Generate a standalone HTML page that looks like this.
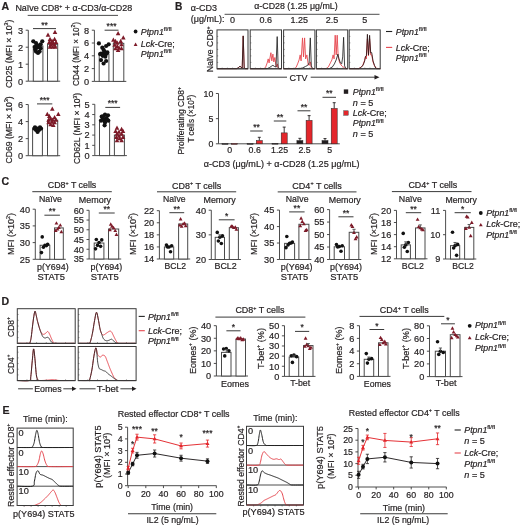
<!DOCTYPE html>
<html><head><meta charset="utf-8"><style>
html,body{margin:0;padding:0;background:#fff;}
svg{display:block;}
text{stroke:#231f20;stroke-width:0.2px;}
</style></head><body>
<svg width="520" height="526" viewBox="0 0 520 526" font-family='"Liberation Sans", Arial, Helvetica, sans-serif' fill="#231f20">
<rect width="520" height="526" fill="#fff"/>
<text x="1.60" y="9.70" font-size="10.6" font-weight="bold">A</text>
<text x="15.40" y="11.20" font-size="9.0" textLength="116.90" lengthAdjust="spacingAndGlyphs">Naïve CD8<tspan dy="-3.2" font-size="5.2">+</tspan><tspan dy="3.2"> + <tspan font-family=""Liberation Serif", "Times New Roman", serif">α</tspan>-CD3/<tspan font-family=""Liberation Serif", "Times New Roman", serif">α</tspan>-CD28</tspan></text>
<line x1="27.70" y1="15.40" x2="118.00" y2="15.40" stroke="#3a3a3a" stroke-width="0.9"/>
<line x1="28.30" y1="30.20" x2="28.30" y2="81.20" stroke="#3a3a3a" stroke-width="0.9"/>
<line x1="25.70" y1="81.20" x2="28.30" y2="81.20" stroke="#3a3a3a" stroke-width="0.9"/>
<text x="23.10" y="84.51" font-size="9.2" text-anchor="end">0</text>
<line x1="25.70" y1="64.20" x2="28.30" y2="64.20" stroke="#3a3a3a" stroke-width="0.9"/>
<text x="23.10" y="67.51" font-size="9.2" text-anchor="end">1</text>
<line x1="25.70" y1="47.20" x2="28.30" y2="47.20" stroke="#3a3a3a" stroke-width="0.9"/>
<text x="23.10" y="50.51" font-size="9.2" text-anchor="end">2</text>
<line x1="25.70" y1="30.20" x2="28.30" y2="30.20" stroke="#3a3a3a" stroke-width="0.9"/>
<text x="23.10" y="33.51" font-size="9.2" text-anchor="end">3</text>
<line x1="28.30" y1="81.20" x2="60.20" y2="81.20" stroke="#3a3a3a" stroke-width="0.9"/>
<rect x="33.30" y="46.01" width="9.60" height="35.19" fill="#fff" stroke="#4a4a4a" stroke-width="1"/>
<rect x="47.50" y="44.31" width="10.20" height="36.89" fill="#fff" stroke="#4a4a4a" stroke-width="1"/>
<circle cx="33.30" cy="41.30" r="2.1" fill="#111111"/>
<circle cx="36.00" cy="43.00" r="2.1" fill="#111111"/>
<circle cx="42.30" cy="41.30" r="2.1" fill="#111111"/>
<circle cx="40.60" cy="44.30" r="2.1" fill="#111111"/>
<circle cx="38.60" cy="45.60" r="2.1" fill="#111111"/>
<circle cx="37.30" cy="47.60" r="2.1" fill="#111111"/>
<circle cx="35.30" cy="49.60" r="2.1" fill="#111111"/>
<circle cx="36.00" cy="51.60" r="2.1" fill="#111111"/>
<circle cx="38.00" cy="52.90" r="2.1" fill="#111111"/>
<circle cx="39.60" cy="51.60" r="2.1" fill="#111111"/>
<circle cx="40.60" cy="48.30" r="2.1" fill="#111111"/>
<circle cx="34.70" cy="47.00" r="2.1" fill="#111111"/>
<circle cx="39.50" cy="46.50" r="2.1" fill="#111111"/>
<circle cx="36.50" cy="45.00" r="2.1" fill="#111111"/>
<path d="M48.00 32.52 L50.30 36.66 L45.70 36.66 Z" fill="#7d1a28"/>
<path d="M55.00 29.82 L57.30 33.96 L52.70 33.96 Z" fill="#7d1a28"/>
<path d="M50.00 36.82 L52.30 40.96 L47.70 40.96 Z" fill="#7d1a28"/>
<path d="M54.60 36.82 L56.90 40.96 L52.30 40.96 Z" fill="#7d1a28"/>
<path d="M49.30 39.82 L51.60 43.96 L47.00 43.96 Z" fill="#7d1a28"/>
<path d="M56.00 39.82 L58.30 43.96 L53.70 43.96 Z" fill="#7d1a28"/>
<path d="M50.60 42.52 L52.90 46.66 L48.30 46.66 Z" fill="#7d1a28"/>
<path d="M54.60 42.52 L56.90 46.66 L52.30 46.66 Z" fill="#7d1a28"/>
<path d="M52.60 44.72 L54.90 48.86 L50.30 48.86 Z" fill="#7d1a28"/>
<path d="M50.00 44.52 L52.30 48.66 L47.70 48.66 Z" fill="#7d1a28"/>
<path d="M55.30 44.52 L57.60 48.66 L53.00 48.66 Z" fill="#7d1a28"/>
<path d="M52.00 38.52 L54.30 42.66 L49.70 42.66 Z" fill="#7d1a28"/>
<path d="M53.30 40.52 L55.60 44.66 L51.00 44.66 Z" fill="#7d1a28"/>
<path d="M51.50 41.02 L53.80 45.16 L49.20 45.16 Z" fill="#7d1a28"/>
<line x1="33.00" y1="28.60" x2="56.00" y2="28.60" stroke="#3a3a3a" stroke-width="1.0"/>
<text x="44.50" y="27.60" font-size="8.5" text-anchor="middle">**</text>
<text x="11.80" y="88.00" font-size="9.0" textLength="68.40" lengthAdjust="spacingAndGlyphs" transform="rotate(-90 11.80 88.00)">CD25 (MFI × 10<tspan dy="-3.4" font-size="5.4">3</tspan><tspan dy="3.4">)</tspan></text>
<line x1="94.40" y1="30.20" x2="94.40" y2="81.40" stroke="#3a3a3a" stroke-width="0.9"/>
<line x1="91.80" y1="81.40" x2="94.40" y2="81.40" stroke="#3a3a3a" stroke-width="0.9"/>
<text x="89.20" y="84.71" font-size="9.2" text-anchor="end">0</text>
<line x1="91.80" y1="68.60" x2="94.40" y2="68.60" stroke="#3a3a3a" stroke-width="0.9"/>
<text x="89.20" y="71.91" font-size="9.2" text-anchor="end">2</text>
<line x1="91.80" y1="55.80" x2="94.40" y2="55.80" stroke="#3a3a3a" stroke-width="0.9"/>
<text x="89.20" y="59.11" font-size="9.2" text-anchor="end">4</text>
<line x1="91.80" y1="43.00" x2="94.40" y2="43.00" stroke="#3a3a3a" stroke-width="0.9"/>
<text x="89.20" y="46.31" font-size="9.2" text-anchor="end">6</text>
<line x1="91.80" y1="30.20" x2="94.40" y2="30.20" stroke="#3a3a3a" stroke-width="0.9"/>
<text x="89.20" y="33.51" font-size="9.2" text-anchor="end">8</text>
<line x1="94.40" y1="81.40" x2="126.30" y2="81.40" stroke="#3a3a3a" stroke-width="0.9"/>
<rect x="99.20" y="54.20" width="9.70" height="27.20" fill="#fff" stroke="#4a4a4a" stroke-width="1"/>
<rect x="113.30" y="43.32" width="10.50" height="38.08" fill="#fff" stroke="#4a4a4a" stroke-width="1"/>
<circle cx="98.90" cy="43.40" r="2.1" fill="#111111"/>
<circle cx="108.70" cy="44.30" r="2.1" fill="#111111"/>
<circle cx="106.10" cy="46.00" r="2.1" fill="#111111"/>
<circle cx="102.30" cy="47.70" r="2.1" fill="#111111"/>
<circle cx="103.60" cy="49.80" r="2.1" fill="#111111"/>
<circle cx="101.00" cy="53.70" r="2.1" fill="#111111"/>
<circle cx="103.60" cy="53.30" r="2.1" fill="#111111"/>
<circle cx="106.10" cy="54.10" r="2.1" fill="#111111"/>
<circle cx="102.70" cy="55.80" r="2.1" fill="#111111"/>
<circle cx="105.30" cy="56.70" r="2.1" fill="#111111"/>
<circle cx="101.00" cy="60.10" r="2.1" fill="#111111"/>
<circle cx="106.10" cy="61.00" r="2.1" fill="#111111"/>
<circle cx="103.60" cy="63.50" r="2.1" fill="#111111"/>
<circle cx="100.10" cy="54.10" r="2.1" fill="#111111"/>
<circle cx="107.40" cy="52.40" r="2.1" fill="#111111"/>
<circle cx="104.50" cy="51.50" r="2.1" fill="#111111"/>
<path d="M118.10 31.12 L120.40 35.26 L115.80 35.26 Z" fill="#7d1a28"/>
<path d="M113.40 37.52 L115.70 41.66 L111.10 41.66 Z" fill="#7d1a28"/>
<path d="M123.30 35.32 L125.60 39.46 L121.00 39.46 Z" fill="#7d1a28"/>
<path d="M115.50 38.82 L117.80 42.96 L113.20 42.96 Z" fill="#7d1a28"/>
<path d="M120.70 38.82 L123.00 42.96 L118.40 42.96 Z" fill="#7d1a28"/>
<path d="M117.30 40.52 L119.60 44.66 L115.00 44.66 Z" fill="#7d1a28"/>
<path d="M114.70 42.62 L117.00 46.76 L112.40 46.76 Z" fill="#7d1a28"/>
<path d="M121.50 42.22 L123.80 46.36 L119.20 46.36 Z" fill="#7d1a28"/>
<path d="M117.30 43.92 L119.60 48.06 L115.00 48.06 Z" fill="#7d1a28"/>
<path d="M119.00 45.62 L121.30 49.76 L116.70 49.76 Z" fill="#7d1a28"/>
<path d="M115.50 46.02 L117.80 50.16 L113.20 50.16 Z" fill="#7d1a28"/>
<path d="M121.50 46.02 L123.80 50.16 L119.20 50.16 Z" fill="#7d1a28"/>
<path d="M118.10 47.82 L120.40 51.96 L115.80 51.96 Z" fill="#7d1a28"/>
<line x1="104.60" y1="30.20" x2="118.50" y2="30.20" stroke="#3a3a3a" stroke-width="1.0"/>
<text x="111.55" y="29.20" font-size="8.5" text-anchor="middle">***</text>
<text x="78.50" y="86.00" font-size="9.0" textLength="64.00" lengthAdjust="spacingAndGlyphs" transform="rotate(-90 78.50 86.00)">CD44 (MFI × 10<tspan dy="-3.4" font-size="5.4">2</tspan><tspan dy="3.4">)</tspan></text>
<circle cx="135.60" cy="31.50" r="1.9" fill="#111111"/>
<text x="140.80" y="34.60" font-size="8.8"><tspan font-style="italic">Ptpn1</tspan><tspan dy="-3.7" font-size="6.1">fl/fl</tspan></text>
<path d="M135.60 42.55 L137.50 45.97 L133.70 45.97 Z" fill="#7d1a28"/>
<text x="140.80" y="46.80" font-size="9.0"><tspan font-style="italic">Lck</tspan>-Cre;</text>
<text x="140.80" y="56.60" font-size="8.8"><tspan font-style="italic">Ptpn1</tspan><tspan dy="-3.7" font-size="6.1">fl/fl</tspan></text>
<line x1="28.30" y1="104.52" x2="28.30" y2="155.70" stroke="#3a3a3a" stroke-width="0.9"/>
<line x1="25.70" y1="155.70" x2="28.30" y2="155.70" stroke="#3a3a3a" stroke-width="0.9"/>
<text x="23.10" y="159.01" font-size="9.2" text-anchor="end">0</text>
<line x1="25.70" y1="138.64" x2="28.30" y2="138.64" stroke="#3a3a3a" stroke-width="0.9"/>
<text x="23.10" y="141.95" font-size="9.2" text-anchor="end">2</text>
<line x1="25.70" y1="121.58" x2="28.30" y2="121.58" stroke="#3a3a3a" stroke-width="0.9"/>
<text x="23.10" y="124.89" font-size="9.2" text-anchor="end">4</text>
<line x1="25.70" y1="104.52" x2="28.30" y2="104.52" stroke="#3a3a3a" stroke-width="0.9"/>
<text x="23.10" y="107.83" font-size="9.2" text-anchor="end">6</text>
<line x1="28.30" y1="155.70" x2="60.20" y2="155.70" stroke="#3a3a3a" stroke-width="0.9"/>
<rect x="32.60" y="129.43" width="9.80" height="26.27" fill="#fff" stroke="#4a4a4a" stroke-width="1"/>
<rect x="47.50" y="120.22" width="10.20" height="35.48" fill="#fff" stroke="#4a4a4a" stroke-width="1"/>
<circle cx="35.00" cy="127.30" r="2.1" fill="#111111"/>
<circle cx="40.00" cy="127.30" r="2.1" fill="#111111"/>
<circle cx="36.00" cy="130.00" r="2.1" fill="#111111"/>
<circle cx="39.00" cy="130.00" r="2.1" fill="#111111"/>
<circle cx="37.60" cy="132.00" r="2.1" fill="#111111"/>
<circle cx="37.30" cy="128.60" r="2.1" fill="#111111"/>
<circle cx="34.30" cy="128.60" r="2.1" fill="#111111"/>
<circle cx="41.00" cy="128.60" r="2.1" fill="#111111"/>
<circle cx="37.50" cy="130.50" r="2.1" fill="#111111"/>
<path d="M52.30 106.52 L54.60 110.66 L50.00 110.66 Z" fill="#7d1a28"/>
<path d="M47.30 111.82 L49.60 115.96 L45.00 115.96 Z" fill="#7d1a28"/>
<path d="M58.30 111.82 L60.60 115.96 L56.00 115.96 Z" fill="#7d1a28"/>
<path d="M49.30 113.82 L51.60 117.96 L47.00 117.96 Z" fill="#7d1a28"/>
<path d="M54.60 115.12 L56.90 119.26 L52.30 119.26 Z" fill="#7d1a28"/>
<path d="M48.60 117.52 L50.90 121.66 L46.30 121.66 Z" fill="#7d1a28"/>
<path d="M56.00 117.52 L58.30 121.66 L53.70 121.66 Z" fill="#7d1a28"/>
<path d="M50.60 116.12 L52.90 120.26 L48.30 120.26 Z" fill="#7d1a28"/>
<path d="M52.60 117.52 L54.90 121.66 L50.30 121.66 Z" fill="#7d1a28"/>
<path d="M48.60 120.12 L50.90 124.26 L46.30 124.26 Z" fill="#7d1a28"/>
<path d="M54.60 120.12 L56.90 124.26 L52.30 124.26 Z" fill="#7d1a28"/>
<path d="M50.60 122.12 L52.90 126.26 L48.30 126.26 Z" fill="#7d1a28"/>
<path d="M53.30 122.82 L55.60 126.96 L51.00 126.96 Z" fill="#7d1a28"/>
<path d="M52.00 119.52 L54.30 123.66 L49.70 123.66 Z" fill="#7d1a28"/>
<line x1="37.00" y1="103.90" x2="52.30" y2="103.90" stroke="#3a3a3a" stroke-width="1.0"/>
<text x="44.65" y="102.90" font-size="8.5" text-anchor="middle">***</text>
<text x="11.80" y="163.40" font-size="9.0" textLength="67.00" lengthAdjust="spacingAndGlyphs" transform="rotate(-90 11.80 163.40)">CD69 (MFI × 10<tspan dy="-3.4" font-size="5.4">3</tspan><tspan dy="3.4">)</tspan></text>
<line x1="94.80" y1="104.30" x2="94.80" y2="155.60" stroke="#3a3a3a" stroke-width="0.9"/>
<line x1="92.20" y1="155.60" x2="94.80" y2="155.60" stroke="#3a3a3a" stroke-width="0.9"/>
<text x="89.60" y="158.91" font-size="9.2" text-anchor="end">0</text>
<line x1="92.20" y1="145.34" x2="94.80" y2="145.34" stroke="#3a3a3a" stroke-width="0.9"/>
<text x="89.60" y="148.65" font-size="9.2" text-anchor="end">1</text>
<line x1="92.20" y1="135.08" x2="94.80" y2="135.08" stroke="#3a3a3a" stroke-width="0.9"/>
<text x="89.60" y="138.39" font-size="9.2" text-anchor="end">2</text>
<line x1="92.20" y1="124.82" x2="94.80" y2="124.82" stroke="#3a3a3a" stroke-width="0.9"/>
<text x="89.60" y="128.13" font-size="9.2" text-anchor="end">3</text>
<line x1="92.20" y1="114.56" x2="94.80" y2="114.56" stroke="#3a3a3a" stroke-width="0.9"/>
<text x="89.60" y="117.87" font-size="9.2" text-anchor="end">4</text>
<line x1="92.20" y1="104.30" x2="94.80" y2="104.30" stroke="#3a3a3a" stroke-width="0.9"/>
<text x="89.60" y="107.61" font-size="9.2" text-anchor="end">5</text>
<line x1="94.80" y1="155.60" x2="126.90" y2="155.60" stroke="#3a3a3a" stroke-width="0.9"/>
<rect x="99.50" y="121.74" width="10.10" height="33.86" fill="#fff" stroke="#4a4a4a" stroke-width="1"/>
<rect x="114.40" y="135.08" width="10.00" height="20.52" fill="#fff" stroke="#4a4a4a" stroke-width="1"/>
<circle cx="101.70" cy="116.60" r="2.1" fill="#111111"/>
<circle cx="105.00" cy="114.70" r="2.1" fill="#111111"/>
<circle cx="108.00" cy="115.30" r="2.1" fill="#111111"/>
<circle cx="103.00" cy="118.60" r="2.1" fill="#111111"/>
<circle cx="106.30" cy="118.00" r="2.1" fill="#111111"/>
<circle cx="101.00" cy="120.60" r="2.1" fill="#111111"/>
<circle cx="104.30" cy="120.60" r="2.1" fill="#111111"/>
<circle cx="108.30" cy="120.60" r="2.1" fill="#111111"/>
<circle cx="105.00" cy="122.60" r="2.1" fill="#111111"/>
<circle cx="104.60" cy="125.30" r="2.1" fill="#111111"/>
<circle cx="103.00" cy="116.30" r="2.1" fill="#111111"/>
<circle cx="107.00" cy="119.50" r="2.1" fill="#111111"/>
<path d="M117.00 125.52 L119.30 129.66 L114.70 129.66 Z" fill="#7d1a28"/>
<path d="M121.60 126.82 L123.90 130.96 L119.30 130.96 Z" fill="#7d1a28"/>
<path d="M115.60 128.82 L117.90 132.96 L113.30 132.96 Z" fill="#7d1a28"/>
<path d="M123.00 128.82 L125.30 132.96 L120.70 132.96 Z" fill="#7d1a28"/>
<path d="M119.00 129.52 L121.30 133.66 L116.70 133.66 Z" fill="#7d1a28"/>
<path d="M117.00 131.52 L119.30 135.66 L114.70 135.66 Z" fill="#7d1a28"/>
<path d="M121.60 131.52 L123.90 135.66 L119.30 135.66 Z" fill="#7d1a28"/>
<path d="M116.30 134.82 L118.60 138.96 L114.00 138.96 Z" fill="#7d1a28"/>
<path d="M123.00 134.82 L125.30 138.96 L120.70 138.96 Z" fill="#7d1a28"/>
<path d="M119.60 136.12 L121.90 140.26 L117.30 140.26 Z" fill="#7d1a28"/>
<path d="M117.00 138.12 L119.30 142.26 L114.70 142.26 Z" fill="#7d1a28"/>
<path d="M121.60 138.12 L123.90 142.26 L119.30 142.26 Z" fill="#7d1a28"/>
<path d="M119.00 133.52 L121.30 137.66 L116.70 137.66 Z" fill="#7d1a28"/>
<line x1="105.30" y1="107.40" x2="120.10" y2="107.40" stroke="#3a3a3a" stroke-width="1.0"/>
<text x="112.70" y="106.40" font-size="8.5" text-anchor="middle">***</text>
<text x="80.20" y="164.00" font-size="9.0" textLength="71.10" lengthAdjust="spacingAndGlyphs" transform="rotate(-90 80.20 164.00)">CD62L (MFI × 10<tspan dy="-3.4" font-size="5.4">3</tspan><tspan dy="3.4">)</tspan></text>
<text x="175.00" y="9.80" font-size="10.2" font-weight="bold">B</text>
<text x="190.80" y="10.80" font-size="9.0"><tspan font-family=""Liberation Serif", "Times New Roman", serif">α</tspan>-CD3</text>
<text x="190.80" y="21.50" font-size="9.0" textLength="33.80" lengthAdjust="spacingAndGlyphs">(μg/mL):</text>
<text x="254.20" y="8.50" font-size="9.0" textLength="83.50" lengthAdjust="spacingAndGlyphs"><tspan font-family=""Liberation Serif", "Times New Roman", serif">α</tspan>-CD28 (1.25 μg/mL)</text>
<line x1="224.60" y1="14.30" x2="379.50" y2="14.30" stroke="#3a3a3a" stroke-width="0.9"/>
<text x="232.50" y="23.30" font-size="9.0" text-anchor="middle">0</text>
<rect x="217.00" y="29.90" width="31.00" height="38.90" fill="none" stroke="#3a3a3a" stroke-width="1.0"/>
<line x1="217.00" y1="36.40" x2="218.20" y2="36.40" stroke="#3a3a3a" stroke-width="0.5"/>
<line x1="217.00" y1="42.90" x2="218.20" y2="42.90" stroke="#3a3a3a" stroke-width="0.5"/>
<line x1="217.00" y1="49.40" x2="218.20" y2="49.40" stroke="#3a3a3a" stroke-width="0.5"/>
<line x1="217.00" y1="55.90" x2="218.20" y2="55.90" stroke="#3a3a3a" stroke-width="0.5"/>
<line x1="217.00" y1="62.40" x2="218.20" y2="62.40" stroke="#3a3a3a" stroke-width="0.5"/>
<line x1="222.20" y1="68.80" x2="222.20" y2="67.60" stroke="#3a3a3a" stroke-width="0.5"/>
<line x1="227.40" y1="68.80" x2="227.40" y2="67.60" stroke="#3a3a3a" stroke-width="0.5"/>
<line x1="232.60" y1="68.80" x2="232.60" y2="67.60" stroke="#3a3a3a" stroke-width="0.5"/>
<line x1="237.80" y1="68.80" x2="237.80" y2="67.60" stroke="#3a3a3a" stroke-width="0.5"/>
<line x1="243.00" y1="68.80" x2="243.00" y2="67.60" stroke="#3a3a3a" stroke-width="0.5"/>
<text x="265.85" y="23.30" font-size="9.0" text-anchor="middle">0.6</text>
<rect x="250.20" y="29.90" width="31.30" height="38.90" fill="none" stroke="#3a3a3a" stroke-width="1.0"/>
<line x1="250.20" y1="36.40" x2="251.40" y2="36.40" stroke="#3a3a3a" stroke-width="0.5"/>
<line x1="250.20" y1="42.90" x2="251.40" y2="42.90" stroke="#3a3a3a" stroke-width="0.5"/>
<line x1="250.20" y1="49.40" x2="251.40" y2="49.40" stroke="#3a3a3a" stroke-width="0.5"/>
<line x1="250.20" y1="55.90" x2="251.40" y2="55.90" stroke="#3a3a3a" stroke-width="0.5"/>
<line x1="250.20" y1="62.40" x2="251.40" y2="62.40" stroke="#3a3a3a" stroke-width="0.5"/>
<line x1="255.40" y1="68.80" x2="255.40" y2="67.60" stroke="#3a3a3a" stroke-width="0.5"/>
<line x1="260.60" y1="68.80" x2="260.60" y2="67.60" stroke="#3a3a3a" stroke-width="0.5"/>
<line x1="265.80" y1="68.80" x2="265.80" y2="67.60" stroke="#3a3a3a" stroke-width="0.5"/>
<line x1="271.00" y1="68.80" x2="271.00" y2="67.60" stroke="#3a3a3a" stroke-width="0.5"/>
<line x1="276.20" y1="68.80" x2="276.20" y2="67.60" stroke="#3a3a3a" stroke-width="0.5"/>
<text x="299.25" y="23.30" font-size="9.0" text-anchor="middle">1.25</text>
<rect x="283.60" y="29.90" width="31.30" height="38.90" fill="none" stroke="#3a3a3a" stroke-width="1.0"/>
<line x1="283.60" y1="36.40" x2="284.80" y2="36.40" stroke="#3a3a3a" stroke-width="0.5"/>
<line x1="283.60" y1="42.90" x2="284.80" y2="42.90" stroke="#3a3a3a" stroke-width="0.5"/>
<line x1="283.60" y1="49.40" x2="284.80" y2="49.40" stroke="#3a3a3a" stroke-width="0.5"/>
<line x1="283.60" y1="55.90" x2="284.80" y2="55.90" stroke="#3a3a3a" stroke-width="0.5"/>
<line x1="283.60" y1="62.40" x2="284.80" y2="62.40" stroke="#3a3a3a" stroke-width="0.5"/>
<line x1="288.80" y1="68.80" x2="288.80" y2="67.60" stroke="#3a3a3a" stroke-width="0.5"/>
<line x1="294.00" y1="68.80" x2="294.00" y2="67.60" stroke="#3a3a3a" stroke-width="0.5"/>
<line x1="299.20" y1="68.80" x2="299.20" y2="67.60" stroke="#3a3a3a" stroke-width="0.5"/>
<line x1="304.40" y1="68.80" x2="304.40" y2="67.60" stroke="#3a3a3a" stroke-width="0.5"/>
<line x1="309.60" y1="68.80" x2="309.60" y2="67.60" stroke="#3a3a3a" stroke-width="0.5"/>
<text x="332.05" y="23.30" font-size="9.0" text-anchor="middle">2.5</text>
<rect x="316.40" y="29.90" width="31.30" height="38.90" fill="none" stroke="#3a3a3a" stroke-width="1.0"/>
<line x1="316.40" y1="36.40" x2="317.60" y2="36.40" stroke="#3a3a3a" stroke-width="0.5"/>
<line x1="316.40" y1="42.90" x2="317.60" y2="42.90" stroke="#3a3a3a" stroke-width="0.5"/>
<line x1="316.40" y1="49.40" x2="317.60" y2="49.40" stroke="#3a3a3a" stroke-width="0.5"/>
<line x1="316.40" y1="55.90" x2="317.60" y2="55.90" stroke="#3a3a3a" stroke-width="0.5"/>
<line x1="316.40" y1="62.40" x2="317.60" y2="62.40" stroke="#3a3a3a" stroke-width="0.5"/>
<line x1="321.60" y1="68.80" x2="321.60" y2="67.60" stroke="#3a3a3a" stroke-width="0.5"/>
<line x1="326.80" y1="68.80" x2="326.80" y2="67.60" stroke="#3a3a3a" stroke-width="0.5"/>
<line x1="332.00" y1="68.80" x2="332.00" y2="67.60" stroke="#3a3a3a" stroke-width="0.5"/>
<line x1="337.20" y1="68.80" x2="337.20" y2="67.60" stroke="#3a3a3a" stroke-width="0.5"/>
<line x1="342.40" y1="68.80" x2="342.40" y2="67.60" stroke="#3a3a3a" stroke-width="0.5"/>
<text x="364.70" y="23.30" font-size="9.0" text-anchor="middle">5</text>
<rect x="349.20" y="29.90" width="31.00" height="38.90" fill="none" stroke="#3a3a3a" stroke-width="1.0"/>
<line x1="349.20" y1="36.40" x2="350.40" y2="36.40" stroke="#3a3a3a" stroke-width="0.5"/>
<line x1="349.20" y1="42.90" x2="350.40" y2="42.90" stroke="#3a3a3a" stroke-width="0.5"/>
<line x1="349.20" y1="49.40" x2="350.40" y2="49.40" stroke="#3a3a3a" stroke-width="0.5"/>
<line x1="349.20" y1="55.90" x2="350.40" y2="55.90" stroke="#3a3a3a" stroke-width="0.5"/>
<line x1="349.20" y1="62.40" x2="350.40" y2="62.40" stroke="#3a3a3a" stroke-width="0.5"/>
<line x1="354.40" y1="68.80" x2="354.40" y2="67.60" stroke="#3a3a3a" stroke-width="0.5"/>
<line x1="359.60" y1="68.80" x2="359.60" y2="67.60" stroke="#3a3a3a" stroke-width="0.5"/>
<line x1="364.80" y1="68.80" x2="364.80" y2="67.60" stroke="#3a3a3a" stroke-width="0.5"/>
<line x1="370.00" y1="68.80" x2="370.00" y2="67.60" stroke="#3a3a3a" stroke-width="0.5"/>
<line x1="375.20" y1="68.80" x2="375.20" y2="67.60" stroke="#3a3a3a" stroke-width="0.5"/>
<text x="213.30" y="72.30" font-size="9.0" textLength="46.00" lengthAdjust="spacingAndGlyphs" transform="rotate(-90 213.30 72.30)">Naïve CD8<tspan dy="-3.4" font-size="5.4">+</tspan></text>
<polyline points="217.00,68.60 237.00,68.60 238.50,67.70 240.00,66.10 241.00,67.40 242.20,68.10 243.20,35.90 244.20,67.90 245.50,68.60 248.00,68.60" fill="none" stroke="#e6474f" stroke-width="0.9" stroke-linejoin="round"/>
<polyline points="217.00,68.60 237.00,68.60 238.50,67.70 240.00,66.10 241.00,67.40 242.20,68.10 243.20,35.90 244.20,67.90 245.50,68.60 248.00,68.60" fill="none" stroke="#2a1a1a" stroke-width="0.9" stroke-linejoin="round"/>
<polyline points="250.20,68.60 264.20,68.60 265.70,66.90 267.20,62.90 268.20,58.90 269.10,62.90 270.90,52.70 271.80,60.90 272.90,54.10 273.80,61.90 274.90,57.50 275.80,64.90 276.70,66.90 277.40,63.90 278.20,68.40 281.20,68.60" fill="none" stroke="#e6474f" stroke-width="0.9" stroke-linejoin="round"/>
<polyline points="250.20,68.60 267.20,68.60 269.20,67.70 271.20,66.40 272.90,65.30 274.40,66.40 276.00,66.90 277.20,36.60 278.20,67.90 279.40,68.60 281.20,68.60" fill="none" stroke="#222" stroke-width="0.85" stroke-linejoin="round"/>
<polyline points="283.60,68.60 294.60,68.60 296.10,67.40 297.60,63.90 299.10,59.90 300.20,54.90 301.10,60.90 302.50,37.90 303.50,56.90 304.60,37.90 305.60,58.90 306.90,54.90 308.10,63.90 309.10,65.40 310.40,61.90 311.20,67.40 312.10,68.60 314.60,68.60" fill="none" stroke="#e6474f" stroke-width="0.9" stroke-linejoin="round"/>
<polyline points="283.60,68.60 299.60,68.60 302.60,67.90 305.60,66.40 307.60,65.40 309.10,62.90 310.30,37.90 311.30,65.90 312.60,68.60 314.60,68.60" fill="none" stroke="#222" stroke-width="0.85" stroke-linejoin="round"/>
<polyline points="316.40,68.60 326.40,68.60 328.40,66.90 330.40,62.90 331.90,59.90 333.10,54.90 334.10,58.90 335.20,35.20 336.20,54.90 337.20,35.20 338.20,56.90 339.40,61.90 340.90,64.90 342.40,66.40 343.90,67.40 345.40,68.60 347.40,68.60" fill="none" stroke="#e6474f" stroke-width="0.9" stroke-linejoin="round"/>
<polyline points="316.40,68.60 329.40,68.60 332.40,66.90 334.40,63.90 336.20,59.90 337.90,54.10 339.00,58.90 340.40,62.90 341.70,63.90 342.70,56.90 343.60,37.30 344.60,65.90 345.90,68.60 347.40,68.60" fill="none" stroke="#222" stroke-width="0.85" stroke-linejoin="round"/>
<polyline points="349.20,68.60 358.70,68.60 360.70,67.40 362.70,65.40 364.40,60.90 365.50,56.40 366.40,58.90 367.40,38.90 368.50,55.90 369.60,38.90 370.70,54.90 371.70,54.90 373.00,61.90 374.50,65.90 376.50,68.40 380.20,68.60" fill="none" stroke="#e6474f" stroke-width="0.9" stroke-linejoin="round"/>
<polyline points="349.20,68.60 359.20,68.60 361.20,67.40 363.20,64.90 364.70,60.90 365.50,56.40 366.40,55.90 367.40,34.30 368.50,54.90 369.60,35.30 370.70,52.90 371.70,52.60 373.00,60.90 374.50,65.40 375.70,67.90 376.50,68.60 380.20,68.60" fill="none" stroke="#2a1414" stroke-width="0.85" stroke-linejoin="round"/>
<line x1="217.00" y1="68.80" x2="248.00" y2="68.80" stroke="#3a3a3a" stroke-width="1.0"/>
<line x1="250.20" y1="68.80" x2="281.50" y2="68.80" stroke="#3a3a3a" stroke-width="1.0"/>
<line x1="283.60" y1="68.80" x2="314.90" y2="68.80" stroke="#3a3a3a" stroke-width="1.0"/>
<line x1="316.40" y1="68.80" x2="347.70" y2="68.80" stroke="#3a3a3a" stroke-width="1.0"/>
<line x1="349.20" y1="68.80" x2="380.20" y2="68.80" stroke="#3a3a3a" stroke-width="1.0"/>
<line x1="217.80" y1="77.20" x2="287.00" y2="77.20" stroke="#3a3a3a" stroke-width="1.0"/>
<text x="289.50" y="81.00" font-size="9.0" textLength="18.00" lengthAdjust="spacingAndGlyphs">CTV</text>
<line x1="310.70" y1="77.20" x2="376.50" y2="77.20" stroke="#3a3a3a" stroke-width="1.0"/>
<path d="M379.5 77.2 L374.5 74.9 L374.5 79.5 Z" fill="#231f20"/>
<line x1="386.00" y1="31.50" x2="392.20" y2="31.50" stroke="#222" stroke-width="1.1"/>
<text x="395.80" y="34.80" font-size="8.8"><tspan font-style="italic">Ptpn1</tspan><tspan dy="-3.7" font-size="6.1">fl/fl</tspan></text>
<line x1="386.00" y1="47.40" x2="392.20" y2="47.40" stroke="#e6474f" stroke-width="1.1"/>
<text x="395.80" y="50.60" font-size="9.0"><tspan font-style="italic">Lck</tspan>-Cre;</text>
<text x="395.80" y="61.00" font-size="8.8"><tspan font-style="italic">Ptpn1</tspan><tspan dy="-3.7" font-size="6.1">fl/fl</tspan></text>
<line x1="218.50" y1="93.50" x2="218.50" y2="143.80" stroke="#3a3a3a" stroke-width="0.9"/>
<line x1="215.90" y1="143.80" x2="218.50" y2="143.80" stroke="#3a3a3a" stroke-width="0.9"/>
<text x="213.40" y="147.00" font-size="8.8" text-anchor="end">0</text>
<line x1="215.90" y1="118.65" x2="218.50" y2="118.65" stroke="#3a3a3a" stroke-width="0.9"/>
<text x="213.40" y="121.85" font-size="8.8" text-anchor="end">5</text>
<line x1="215.90" y1="93.50" x2="218.50" y2="93.50" stroke="#3a3a3a" stroke-width="0.9"/>
<text x="213.40" y="96.70" font-size="8.8" text-anchor="end">10</text>
<line x1="218.50" y1="143.80" x2="339.80" y2="143.80" stroke="#3a3a3a" stroke-width="0.9"/>
<rect x="222.00" y="143.70" width="6.0" height="0.60" fill="#231f20" stroke="#231f20" stroke-width="0.5"/>
<rect x="231.20" y="143.65" width="6.0" height="0.60" fill="#e3262b" stroke="#231f20" stroke-width="0.5"/>
<rect x="247.10" y="143.65" width="6.0" height="0.60" fill="#231f20" stroke="#231f20" stroke-width="0.5"/>
<line x1="259.30" y1="137.31" x2="259.30" y2="140.58" stroke="#231f20" stroke-width="0.9"/>
<line x1="257.80" y1="137.31" x2="260.80" y2="137.31" stroke="#231f20" stroke-width="0.9"/>
<rect x="256.30" y="140.58" width="6.0" height="3.22" fill="#e3262b" stroke="#231f20" stroke-width="0.5"/>
<rect x="272.00" y="143.55" width="6.0" height="0.60" fill="#231f20" stroke="#231f20" stroke-width="0.5"/>
<line x1="284.20" y1="127.10" x2="284.20" y2="132.88" stroke="#231f20" stroke-width="0.9"/>
<line x1="282.70" y1="127.10" x2="285.70" y2="127.10" stroke="#231f20" stroke-width="0.9"/>
<rect x="281.20" y="132.88" width="6.0" height="10.92" fill="#e3262b" stroke="#231f20" stroke-width="0.5"/>
<line x1="299.90" y1="138.32" x2="299.90" y2="140.58" stroke="#231f20" stroke-width="0.9"/>
<line x1="298.40" y1="138.32" x2="301.40" y2="138.32" stroke="#231f20" stroke-width="0.9"/>
<rect x="296.90" y="140.58" width="6.0" height="3.22" fill="#231f20" stroke="#231f20" stroke-width="0.5"/>
<line x1="309.10" y1="115.63" x2="309.10" y2="120.41" stroke="#231f20" stroke-width="0.9"/>
<line x1="307.60" y1="115.63" x2="310.60" y2="115.63" stroke="#231f20" stroke-width="0.9"/>
<rect x="306.10" y="120.41" width="6.0" height="23.39" fill="#e3262b" stroke="#231f20" stroke-width="0.5"/>
<line x1="325.00" y1="138.57" x2="325.00" y2="140.58" stroke="#231f20" stroke-width="0.9"/>
<line x1="323.50" y1="138.57" x2="326.50" y2="138.57" stroke="#231f20" stroke-width="0.9"/>
<rect x="322.00" y="140.58" width="6.0" height="3.22" fill="#231f20" stroke="#231f20" stroke-width="0.5"/>
<line x1="334.20" y1="102.70" x2="334.20" y2="108.49" stroke="#231f20" stroke-width="0.9"/>
<line x1="332.70" y1="102.70" x2="335.70" y2="102.70" stroke="#231f20" stroke-width="0.9"/>
<rect x="331.20" y="108.49" width="6.0" height="35.31" fill="#e3262b" stroke="#231f20" stroke-width="0.5"/>
<text x="229.60" y="153.20" font-size="8.8" text-anchor="middle">0</text>
<text x="254.70" y="153.20" font-size="8.8" text-anchor="middle">0.6</text>
<text x="279.60" y="153.20" font-size="8.8" text-anchor="middle">1.25</text>
<text x="304.50" y="153.20" font-size="8.8" text-anchor="middle">2.5</text>
<text x="329.60" y="153.20" font-size="8.8" text-anchor="middle">5</text>
<line x1="250.20" y1="131.00" x2="262.70" y2="131.00" stroke="#3a3a3a" stroke-width="1.0"/>
<text x="256.45" y="130.00" font-size="8.5" text-anchor="middle">**</text>
<line x1="273.80" y1="121.00" x2="286.30" y2="121.00" stroke="#3a3a3a" stroke-width="1.0"/>
<text x="280.05" y="120.00" font-size="8.5" text-anchor="middle">**</text>
<line x1="297.50" y1="110.80" x2="310.40" y2="110.80" stroke="#3a3a3a" stroke-width="1.0"/>
<text x="303.95" y="109.80" font-size="8.5" text-anchor="middle">**</text>
<line x1="322.50" y1="97.30" x2="336.00" y2="97.30" stroke="#3a3a3a" stroke-width="1.0"/>
<text x="329.25" y="96.30" font-size="8.5" text-anchor="middle">**</text>
<text x="203.80" y="166.60" font-size="9.0" textLength="155.70" lengthAdjust="spacingAndGlyphs"><tspan font-family=""Liberation Serif", "Times New Roman", serif">α</tspan>-CD3 (μg/mL) + <tspan font-family=""Liberation Serif", "Times New Roman", serif">α</tspan>-CD28 (1.25 μg/mL)</text>
<text x="184.00" y="154.50" font-size="9.0" textLength="67.50" lengthAdjust="spacingAndGlyphs" transform="rotate(-90 184.00 154.50)">Proliferating CD8<tspan dy="-3.4" font-size="5.4">+</tspan></text>
<text x="194.20" y="142.50" font-size="9.0" textLength="47.80" lengthAdjust="spacingAndGlyphs" transform="rotate(-90 194.20 142.50)">T cells (×10<tspan dy="-3.4" font-size="5.4">5</tspan><tspan dy="3.4">)</tspan></text>
<rect x="343.80" y="89.40" width="4.4" height="4.4" fill="#231f20"/>
<text x="352.80" y="94.50" font-size="8.8"><tspan font-style="italic">Ptpn1</tspan><tspan dy="-3.7" font-size="6.1">fl/fl</tspan></text>
<text x="352.80" y="105.60" font-size="9.1"><tspan font-style="italic">n</tspan> = 5</text>
<rect x="343.8" y="110.8" width="4.4" height="4.4" fill="#e3262b" stroke="#231f20" stroke-width="0.4"/>
<text x="352.80" y="115.90" font-size="9.0"><tspan font-style="italic">Lck</tspan>-Cre;</text>
<text x="352.80" y="126.20" font-size="8.8"><tspan font-style="italic">Ptpn1</tspan><tspan dy="-3.7" font-size="6.1">fl/fl</tspan></text>
<text x="352.80" y="137.30" font-size="9.1"><tspan font-style="italic">n</tspan> = 5</text>
<text x="1.60" y="184.60" font-size="10.6" font-weight="bold">C</text>
<text x="47.80" y="188.30" font-size="9.0" textLength="48.50" lengthAdjust="spacingAndGlyphs">CD8<tspan dy="-3.4" font-size="5.4">+</tspan><tspan dy="3.4"> T cells</tspan></text>
<line x1="32.30" y1="191.70" x2="111.80" y2="191.70" stroke="#3a3a3a" stroke-width="1.0"/>
<text x="172.10" y="188.50" font-size="9.0" textLength="49.10" lengthAdjust="spacingAndGlyphs">CD8<tspan dy="-3.4" font-size="5.4">+</tspan><tspan dy="3.4"> T cells</tspan></text>
<line x1="157.00" y1="191.80" x2="236.20" y2="191.80" stroke="#3a3a3a" stroke-width="1.0"/>
<text x="292.30" y="188.60" font-size="9.0" textLength="49.60" lengthAdjust="spacingAndGlyphs">CD4<tspan dy="-3.4" font-size="5.4">+</tspan><tspan dy="3.4"> T cells</tspan></text>
<line x1="277.70" y1="191.90" x2="356.50" y2="191.90" stroke="#3a3a3a" stroke-width="1.0"/>
<text x="408.40" y="188.00" font-size="9.0" textLength="48.90" lengthAdjust="spacingAndGlyphs">CD4<tspan dy="-3.4" font-size="5.4">+</tspan><tspan dy="3.4"> T cells</tspan></text>
<line x1="391.90" y1="191.60" x2="471.50" y2="191.60" stroke="#3a3a3a" stroke-width="1.0"/>
<text x="39.00" y="202.30" font-size="9.0" textLength="23.00" lengthAdjust="spacingAndGlyphs">Naïve</text>
<text x="163.00" y="202.30" font-size="9.0" textLength="22.60" lengthAdjust="spacingAndGlyphs">Naïve</text>
<text x="285.70" y="202.30" font-size="9.0" textLength="22.80" lengthAdjust="spacingAndGlyphs">Naïve</text>
<text x="398.80" y="202.30" font-size="9.0" textLength="23.10" lengthAdjust="spacingAndGlyphs">Naïve</text>
<text x="78.80" y="202.50" font-size="9.0" textLength="32.30" lengthAdjust="spacingAndGlyphs">Memory</text>
<text x="203.50" y="202.50" font-size="9.0" textLength="32.10" lengthAdjust="spacingAndGlyphs">Memory</text>
<text x="328.80" y="202.50" font-size="9.0" textLength="32.00" lengthAdjust="spacingAndGlyphs">Memory</text>
<text x="445.40" y="202.50" font-size="9.0" textLength="31.50" lengthAdjust="spacingAndGlyphs">Memory</text>
<text x="37.00" y="269.80" font-size="9.0" textLength="31.60" lengthAdjust="spacingAndGlyphs">p(Y694)</text>
<text x="37.40" y="279.50" font-size="9.0" textLength="27.60" lengthAdjust="spacingAndGlyphs">STAT5</text>
<text x="90.50" y="269.80" font-size="9.0" textLength="31.80" lengthAdjust="spacingAndGlyphs">p(Y694)</text>
<text x="90.70" y="279.50" font-size="9.0" textLength="28.00" lengthAdjust="spacingAndGlyphs">STAT5</text>
<text x="280.70" y="269.80" font-size="9.0" textLength="31.90" lengthAdjust="spacingAndGlyphs">p(Y694)</text>
<text x="280.70" y="279.50" font-size="9.0" textLength="27.60" lengthAdjust="spacingAndGlyphs">STAT5</text>
<text x="330.00" y="269.80" font-size="9.0" textLength="31.90" lengthAdjust="spacingAndGlyphs">p(Y694)</text>
<text x="330.30" y="279.50" font-size="9.0" textLength="27.80" lengthAdjust="spacingAndGlyphs">STAT5</text>
<text x="164.40" y="269.30" font-size="9.0" textLength="21.60" lengthAdjust="spacingAndGlyphs">BCL2</text>
<text x="214.50" y="269.30" font-size="9.0" textLength="22.20" lengthAdjust="spacingAndGlyphs">BCL2</text>
<text x="401.80" y="269.30" font-size="9.0" textLength="22.00" lengthAdjust="spacingAndGlyphs">BCL2</text>
<text x="452.30" y="269.30" font-size="9.0" textLength="21.50" lengthAdjust="spacingAndGlyphs">BCL2</text>
<line x1="35.30" y1="209.20" x2="35.30" y2="259.30" stroke="#3a3a3a" stroke-width="0.9"/>
<line x1="32.70" y1="259.30" x2="35.30" y2="259.30" stroke="#3a3a3a" stroke-width="0.9"/>
<text x="30.10" y="262.61" font-size="9.2" text-anchor="end">25</text>
<line x1="32.70" y1="242.60" x2="35.30" y2="242.60" stroke="#3a3a3a" stroke-width="0.9"/>
<text x="30.10" y="245.91" font-size="9.2" text-anchor="end">30</text>
<line x1="32.70" y1="225.90" x2="35.30" y2="225.90" stroke="#3a3a3a" stroke-width="0.9"/>
<text x="30.10" y="229.21" font-size="9.2" text-anchor="end">35</text>
<line x1="32.70" y1="209.20" x2="35.30" y2="209.20" stroke="#3a3a3a" stroke-width="0.9"/>
<text x="30.10" y="212.51" font-size="9.2" text-anchor="end">40</text>
<line x1="35.30" y1="259.30" x2="65.80" y2="259.30" stroke="#3a3a3a" stroke-width="0.9"/>
<rect x="40.10" y="245.27" width="9.70" height="14.03" fill="#fff" stroke="#4a4a4a" stroke-width="1"/>
<rect x="54.50" y="227.90" width="8.80" height="31.40" fill="#fff" stroke="#4a4a4a" stroke-width="1"/>
<circle cx="44.95" cy="245.27" r="1.8" fill="#111111"/>
<circle cx="42.23" cy="236.92" r="1.8" fill="#111111"/>
<circle cx="47.67" cy="244.27" r="1.8" fill="#111111"/>
<circle cx="43.40" cy="247.28" r="1.8" fill="#111111"/>
<circle cx="46.50" cy="245.61" r="1.8" fill="#111111"/>
<circle cx="41.46" cy="252.62" r="1.8" fill="#111111"/>
<path d="M58.90 225.52 L60.80 228.94 L57.00 228.94 Z" fill="#7d1a28"/>
<path d="M56.44 221.18 L58.34 224.60 L54.54 224.60 Z" fill="#7d1a28"/>
<path d="M61.36 229.86 L63.26 233.28 L59.46 233.28 Z" fill="#7d1a28"/>
<path d="M57.49 227.19 L59.39 230.61 L55.59 230.61 Z" fill="#7d1a28"/>
<path d="M60.31 223.18 L62.21 226.60 L58.41 226.60 Z" fill="#7d1a28"/>
<path d="M55.73 228.52 L57.63 231.94 L53.83 231.94 Z" fill="#7d1a28"/>
<line x1="44.40" y1="215.20" x2="59.90" y2="215.20" stroke="#3a3a3a" stroke-width="1.0"/>
<text x="52.15" y="214.20" font-size="8.5" text-anchor="middle">**</text>
<line x1="89.10" y1="210.30" x2="89.10" y2="259.00" stroke="#3a3a3a" stroke-width="0.9"/>
<line x1="86.50" y1="259.00" x2="89.10" y2="259.00" stroke="#3a3a3a" stroke-width="0.9"/>
<text x="83.90" y="262.31" font-size="9.2" text-anchor="end">35</text>
<line x1="86.50" y1="249.26" x2="89.10" y2="249.26" stroke="#3a3a3a" stroke-width="0.9"/>
<text x="83.90" y="252.57" font-size="9.2" text-anchor="end">40</text>
<line x1="86.50" y1="239.52" x2="89.10" y2="239.52" stroke="#3a3a3a" stroke-width="0.9"/>
<text x="83.90" y="242.83" font-size="9.2" text-anchor="end">45</text>
<line x1="86.50" y1="229.78" x2="89.10" y2="229.78" stroke="#3a3a3a" stroke-width="0.9"/>
<text x="83.90" y="233.09" font-size="9.2" text-anchor="end">50</text>
<line x1="86.50" y1="220.04" x2="89.10" y2="220.04" stroke="#3a3a3a" stroke-width="0.9"/>
<text x="83.90" y="223.35" font-size="9.2" text-anchor="end">55</text>
<line x1="86.50" y1="210.30" x2="89.10" y2="210.30" stroke="#3a3a3a" stroke-width="0.9"/>
<text x="83.90" y="213.61" font-size="9.2" text-anchor="end">60</text>
<line x1="89.10" y1="259.00" x2="121.20" y2="259.00" stroke="#3a3a3a" stroke-width="0.9"/>
<rect x="94.20" y="243.03" width="9.70" height="15.97" fill="#fff" stroke="#4a4a4a" stroke-width="1"/>
<rect x="108.50" y="229.00" width="10.20" height="30.00" fill="#fff" stroke="#4a4a4a" stroke-width="1"/>
<circle cx="99.05" cy="242.44" r="1.8" fill="#111111"/>
<circle cx="96.33" cy="239.52" r="1.8" fill="#111111"/>
<circle cx="101.77" cy="239.91" r="1.8" fill="#111111"/>
<circle cx="97.50" cy="245.36" r="1.8" fill="#111111"/>
<circle cx="100.60" cy="246.34" r="1.8" fill="#111111"/>
<circle cx="95.56" cy="248.87" r="1.8" fill="#111111"/>
<path d="M113.60 225.78 L115.50 229.20 L111.70 229.20 Z" fill="#7d1a28"/>
<path d="M110.74 222.27 L112.64 225.69 L108.84 225.69 Z" fill="#7d1a28"/>
<path d="M116.46 232.60 L118.36 236.02 L114.56 236.02 Z" fill="#7d1a28"/>
<path d="M111.97 224.22 L113.87 227.64 L110.07 227.64 Z" fill="#7d1a28"/>
<path d="M115.23 228.70 L117.13 232.12 L113.33 232.12 Z" fill="#7d1a28"/>
<path d="M109.93 227.73 L111.83 231.15 L108.03 231.15 Z" fill="#7d1a28"/>
<line x1="98.80" y1="213.00" x2="114.70" y2="213.00" stroke="#3a3a3a" stroke-width="1.0"/>
<text x="106.75" y="212.00" font-size="8.5" text-anchor="middle">**</text>
<line x1="159.40" y1="210.70" x2="159.40" y2="259.00" stroke="#3a3a3a" stroke-width="0.9"/>
<line x1="156.80" y1="259.00" x2="159.40" y2="259.00" stroke="#3a3a3a" stroke-width="0.9"/>
<text x="154.20" y="262.31" font-size="9.2" text-anchor="end">14</text>
<line x1="156.80" y1="246.93" x2="159.40" y2="246.93" stroke="#3a3a3a" stroke-width="0.9"/>
<text x="154.20" y="250.24" font-size="9.2" text-anchor="end">16</text>
<line x1="156.80" y1="234.85" x2="159.40" y2="234.85" stroke="#3a3a3a" stroke-width="0.9"/>
<text x="154.20" y="238.16" font-size="9.2" text-anchor="end">18</text>
<line x1="156.80" y1="222.77" x2="159.40" y2="222.77" stroke="#3a3a3a" stroke-width="0.9"/>
<text x="154.20" y="226.09" font-size="9.2" text-anchor="end">20</text>
<line x1="156.80" y1="210.70" x2="159.40" y2="210.70" stroke="#3a3a3a" stroke-width="0.9"/>
<text x="154.20" y="214.01" font-size="9.2" text-anchor="end">22</text>
<line x1="159.40" y1="259.00" x2="190.20" y2="259.00" stroke="#3a3a3a" stroke-width="0.9"/>
<rect x="164.40" y="246.93" width="9.30" height="12.07" fill="#fff" stroke="#4a4a4a" stroke-width="1"/>
<rect x="178.60" y="223.98" width="9.10" height="35.02" fill="#fff" stroke="#4a4a4a" stroke-width="1"/>
<circle cx="169.05" cy="246.93" r="1.8" fill="#111111"/>
<circle cx="166.45" cy="245.11" r="1.8" fill="#111111"/>
<circle cx="171.65" cy="245.72" r="1.8" fill="#111111"/>
<circle cx="167.56" cy="246.93" r="1.8" fill="#111111"/>
<circle cx="170.54" cy="251.75" r="1.8" fill="#111111"/>
<path d="M183.15 221.93 L185.05 225.35 L181.25 225.35 Z" fill="#7d1a28"/>
<path d="M180.60 217.10 L182.50 220.52 L178.70 220.52 Z" fill="#7d1a28"/>
<path d="M185.70 223.74 L187.60 227.16 L183.80 227.16 Z" fill="#7d1a28"/>
<path d="M181.69 224.35 L183.59 227.77 L179.79 227.77 Z" fill="#7d1a28"/>
<path d="M184.61 221.33 L186.51 224.75 L182.71 224.75 Z" fill="#7d1a28"/>
<path d="M179.87 223.14 L181.77 226.56 L177.97 226.56 Z" fill="#7d1a28"/>
<line x1="169.40" y1="212.70" x2="184.20" y2="212.70" stroke="#3a3a3a" stroke-width="1.0"/>
<text x="176.80" y="211.70" font-size="8.5" text-anchor="middle">**</text>
<line x1="211.30" y1="210.20" x2="211.30" y2="259.50" stroke="#3a3a3a" stroke-width="0.9"/>
<line x1="208.70" y1="259.50" x2="211.30" y2="259.50" stroke="#3a3a3a" stroke-width="0.9"/>
<text x="206.10" y="262.81" font-size="9.2" text-anchor="end">20</text>
<line x1="208.70" y1="234.85" x2="211.30" y2="234.85" stroke="#3a3a3a" stroke-width="0.9"/>
<text x="206.10" y="238.16" font-size="9.2" text-anchor="end">30</text>
<line x1="208.70" y1="210.20" x2="211.30" y2="210.20" stroke="#3a3a3a" stroke-width="0.9"/>
<text x="206.10" y="213.51" font-size="9.2" text-anchor="end">40</text>
<line x1="211.30" y1="259.50" x2="240.90" y2="259.50" stroke="#3a3a3a" stroke-width="0.9"/>
<rect x="215.20" y="237.31" width="9.30" height="22.19" fill="#fff" stroke="#4a4a4a" stroke-width="1"/>
<rect x="229.30" y="227.70" width="9.10" height="31.80" fill="#fff" stroke="#4a4a4a" stroke-width="1"/>
<circle cx="219.85" cy="237.31" r="1.8" fill="#111111"/>
<circle cx="217.25" cy="232.38" r="1.8" fill="#111111"/>
<circle cx="222.45" cy="235.84" r="1.8" fill="#111111"/>
<circle cx="218.36" cy="241.01" r="1.8" fill="#111111"/>
<circle cx="221.34" cy="243.48" r="1.8" fill="#111111"/>
<line x1="219.85" y1="234.85" x2="219.85" y2="237.31" stroke="#4a4a4a" stroke-width="0.9"/>
<line x1="218.25" y1="234.85" x2="221.45" y2="234.85" stroke="#4a4a4a" stroke-width="0.9"/>
<path d="M233.85 225.65 L235.75 229.07 L231.95 229.07 Z" fill="#7d1a28"/>
<path d="M231.30 224.17 L233.20 227.59 L229.40 227.59 Z" fill="#7d1a28"/>
<path d="M236.40 227.38 L238.30 230.79 L234.50 230.79 Z" fill="#7d1a28"/>
<path d="M232.39 224.42 L234.29 227.84 L230.49 227.84 Z" fill="#7d1a28"/>
<path d="M235.31 225.16 L237.21 228.58 L233.41 228.58 Z" fill="#7d1a28"/>
<line x1="218.80" y1="219.80" x2="234.60" y2="219.80" stroke="#3a3a3a" stroke-width="1.0"/>
<text x="226.70" y="218.80" font-size="8.5" text-anchor="middle">*</text>
<text x="13.60" y="255.00" font-size="9.0" textLength="42.00" lengthAdjust="spacingAndGlyphs" transform="rotate(-90 13.60 255.00)">MFI (×10<tspan dy="-3.4" font-size="5.4">2</tspan><tspan dy="3.4">)</tspan></text>
<text x="135.80" y="255.00" font-size="9.0" textLength="42.00" lengthAdjust="spacingAndGlyphs" transform="rotate(-90 135.80 255.00)">MFI (×10<tspan dy="-3.4" font-size="5.4">2</tspan><tspan dy="3.4">)</tspan></text>
<line x1="279.50" y1="210.10" x2="279.50" y2="259.50" stroke="#3a3a3a" stroke-width="0.9"/>
<line x1="276.90" y1="259.50" x2="279.50" y2="259.50" stroke="#3a3a3a" stroke-width="0.9"/>
<text x="274.30" y="262.81" font-size="9.2" text-anchor="end">30</text>
<line x1="276.90" y1="243.03" x2="279.50" y2="243.03" stroke="#3a3a3a" stroke-width="0.9"/>
<text x="274.30" y="246.35" font-size="9.2" text-anchor="end">35</text>
<line x1="276.90" y1="226.57" x2="279.50" y2="226.57" stroke="#3a3a3a" stroke-width="0.9"/>
<text x="274.30" y="229.88" font-size="9.2" text-anchor="end">40</text>
<line x1="276.90" y1="210.10" x2="279.50" y2="210.10" stroke="#3a3a3a" stroke-width="0.9"/>
<text x="274.30" y="213.41" font-size="9.2" text-anchor="end">45</text>
<line x1="279.50" y1="259.50" x2="311.40" y2="259.50" stroke="#3a3a3a" stroke-width="0.9"/>
<rect x="284.60" y="243.36" width="10.00" height="16.14" fill="#fff" stroke="#4a4a4a" stroke-width="1"/>
<rect x="298.90" y="224.26" width="10.00" height="35.24" fill="#fff" stroke="#4a4a4a" stroke-width="1"/>
<circle cx="289.60" cy="243.36" r="1.8" fill="#111111"/>
<circle cx="286.80" cy="236.45" r="1.8" fill="#111111"/>
<circle cx="292.40" cy="242.05" r="1.8" fill="#111111"/>
<circle cx="288.00" cy="245.01" r="1.8" fill="#111111"/>
<circle cx="291.20" cy="243.03" r="1.8" fill="#111111"/>
<circle cx="286.00" cy="247.64" r="1.8" fill="#111111"/>
<path d="M303.90 221.88 L305.80 225.30 L302.00 225.30 Z" fill="#7d1a28"/>
<path d="M301.10 216.28 L303.00 219.70 L299.20 219.70 Z" fill="#7d1a28"/>
<path d="M306.70 227.81 L308.60 231.23 L304.80 231.23 Z" fill="#7d1a28"/>
<path d="M302.30 219.57 L304.20 222.99 L300.40 222.99 Z" fill="#7d1a28"/>
<path d="M305.50 228.47 L307.40 231.89 L303.60 231.89 Z" fill="#7d1a28"/>
<path d="M300.30 223.86 L302.20 227.28 L298.40 227.28 Z" fill="#7d1a28"/>
<line x1="289.20" y1="211.90" x2="304.60" y2="211.90" stroke="#3a3a3a" stroke-width="1.0"/>
<text x="296.90" y="210.90" font-size="8.5" text-anchor="middle">**</text>
<line x1="329.60" y1="209.60" x2="329.60" y2="259.50" stroke="#3a3a3a" stroke-width="0.9"/>
<line x1="327.00" y1="259.50" x2="329.60" y2="259.50" stroke="#3a3a3a" stroke-width="0.9"/>
<text x="324.40" y="262.81" font-size="9.2" text-anchor="end">40</text>
<line x1="327.00" y1="247.03" x2="329.60" y2="247.03" stroke="#3a3a3a" stroke-width="0.9"/>
<text x="324.40" y="250.34" font-size="9.2" text-anchor="end">45</text>
<line x1="327.00" y1="234.55" x2="329.60" y2="234.55" stroke="#3a3a3a" stroke-width="0.9"/>
<text x="324.40" y="237.86" font-size="9.2" text-anchor="end">50</text>
<line x1="327.00" y1="222.07" x2="329.60" y2="222.07" stroke="#3a3a3a" stroke-width="0.9"/>
<text x="324.40" y="225.39" font-size="9.2" text-anchor="end">55</text>
<line x1="327.00" y1="209.60" x2="329.60" y2="209.60" stroke="#3a3a3a" stroke-width="0.9"/>
<text x="324.40" y="212.91" font-size="9.2" text-anchor="end">60</text>
<line x1="329.60" y1="259.50" x2="361.30" y2="259.50" stroke="#3a3a3a" stroke-width="0.9"/>
<rect x="334.20" y="246.78" width="10.30" height="12.72" fill="#fff" stroke="#4a4a4a" stroke-width="1"/>
<rect x="349.20" y="232.30" width="9.60" height="27.20" fill="#fff" stroke="#4a4a4a" stroke-width="1"/>
<circle cx="339.35" cy="246.53" r="1.8" fill="#111111"/>
<circle cx="336.47" cy="244.53" r="1.8" fill="#111111"/>
<circle cx="342.23" cy="245.78" r="1.8" fill="#111111"/>
<circle cx="337.70" cy="247.03" r="1.8" fill="#111111"/>
<circle cx="341.00" cy="251.27" r="1.8" fill="#111111"/>
<path d="M354.00 230.50 L355.90 233.92 L352.10 233.92 Z" fill="#7d1a28"/>
<path d="M351.31 223.02 L353.21 226.44 L349.41 226.44 Z" fill="#7d1a28"/>
<path d="M356.69 234.99 L358.59 238.41 L354.79 238.41 Z" fill="#7d1a28"/>
<path d="M352.46 224.51 L354.36 227.93 L350.56 227.93 Z" fill="#7d1a28"/>
<path d="M355.54 236.74 L357.44 240.16 L353.64 240.16 Z" fill="#7d1a28"/>
<line x1="354.00" y1="229.31" x2="354.00" y2="232.30" stroke="#4a4a4a" stroke-width="0.9"/>
<line x1="352.40" y1="229.31" x2="355.60" y2="229.31" stroke="#4a4a4a" stroke-width="0.9"/>
<line x1="338.40" y1="216.80" x2="353.50" y2="216.80" stroke="#3a3a3a" stroke-width="1.0"/>
<text x="345.95" y="215.80" font-size="8.5" text-anchor="middle">**</text>
<line x1="396.50" y1="210.40" x2="396.50" y2="258.80" stroke="#3a3a3a" stroke-width="0.9"/>
<line x1="393.90" y1="258.80" x2="396.50" y2="258.80" stroke="#3a3a3a" stroke-width="0.9"/>
<text x="391.30" y="262.11" font-size="9.2" text-anchor="end">12</text>
<line x1="393.90" y1="246.70" x2="396.50" y2="246.70" stroke="#3a3a3a" stroke-width="0.9"/>
<text x="391.30" y="250.01" font-size="9.2" text-anchor="end">14</text>
<line x1="393.90" y1="234.60" x2="396.50" y2="234.60" stroke="#3a3a3a" stroke-width="0.9"/>
<text x="391.30" y="237.91" font-size="9.2" text-anchor="end">16</text>
<line x1="393.90" y1="222.50" x2="396.50" y2="222.50" stroke="#3a3a3a" stroke-width="0.9"/>
<text x="391.30" y="225.81" font-size="9.2" text-anchor="end">18</text>
<line x1="393.90" y1="210.40" x2="396.50" y2="210.40" stroke="#3a3a3a" stroke-width="0.9"/>
<text x="391.30" y="213.71" font-size="9.2" text-anchor="end">20</text>
<line x1="396.50" y1="258.80" x2="427.50" y2="258.80" stroke="#3a3a3a" stroke-width="0.9"/>
<rect x="401.20" y="244.88" width="9.20" height="13.92" fill="#fff" stroke="#4a4a4a" stroke-width="1"/>
<rect x="415.50" y="227.94" width="9.50" height="30.86" fill="#fff" stroke="#4a4a4a" stroke-width="1"/>
<circle cx="405.80" cy="244.88" r="1.8" fill="#111111"/>
<circle cx="403.22" cy="233.39" r="1.8" fill="#111111"/>
<circle cx="408.38" cy="242.47" r="1.8" fill="#111111"/>
<circle cx="404.33" cy="247.31" r="1.8" fill="#111111"/>
<circle cx="407.27" cy="251.54" r="1.8" fill="#111111"/>
<line x1="405.80" y1="241.86" x2="405.80" y2="244.88" stroke="#4a4a4a" stroke-width="0.9"/>
<line x1="404.20" y1="241.86" x2="407.40" y2="241.86" stroke="#4a4a4a" stroke-width="0.9"/>
<path d="M420.25 225.89 L422.15 229.31 L418.35 229.31 Z" fill="#7d1a28"/>
<path d="M417.59 217.42 L419.49 220.84 L415.69 220.84 Z" fill="#7d1a28"/>
<path d="M422.91 227.71 L424.81 231.13 L421.01 231.13 Z" fill="#7d1a28"/>
<path d="M418.73 224.68 L420.63 228.10 L416.83 228.10 Z" fill="#7d1a28"/>
<path d="M421.77 227.10 L423.67 230.52 L419.87 230.52 Z" fill="#7d1a28"/>
<line x1="420.25" y1="224.92" x2="420.25" y2="227.94" stroke="#4a4a4a" stroke-width="0.9"/>
<line x1="418.65" y1="224.92" x2="421.85" y2="224.92" stroke="#4a4a4a" stroke-width="0.9"/>
<line x1="405.80" y1="212.70" x2="421.20" y2="212.70" stroke="#3a3a3a" stroke-width="1.0"/>
<text x="413.50" y="211.70" font-size="8.5" text-anchor="middle">**</text>
<line x1="445.60" y1="210.40" x2="445.60" y2="259.00" stroke="#3a3a3a" stroke-width="0.9"/>
<line x1="443.00" y1="259.00" x2="445.60" y2="259.00" stroke="#3a3a3a" stroke-width="0.9"/>
<text x="440.40" y="262.31" font-size="9.2" text-anchor="end">9</text>
<line x1="443.00" y1="234.70" x2="445.60" y2="234.70" stroke="#3a3a3a" stroke-width="0.9"/>
<text x="440.40" y="238.01" font-size="9.2" text-anchor="end">10</text>
<line x1="443.00" y1="210.40" x2="445.60" y2="210.40" stroke="#3a3a3a" stroke-width="0.9"/>
<text x="440.40" y="213.71" font-size="9.2" text-anchor="end">11</text>
<line x1="445.60" y1="259.00" x2="476.30" y2="259.00" stroke="#3a3a3a" stroke-width="0.9"/>
<rect x="450.50" y="245.63" width="9.20" height="13.37" fill="#fff" stroke="#4a4a4a" stroke-width="1"/>
<rect x="464.60" y="227.41" width="9.20" height="31.59" fill="#fff" stroke="#4a4a4a" stroke-width="1"/>
<circle cx="455.10" cy="245.63" r="1.8" fill="#111111"/>
<circle cx="452.52" cy="232.27" r="1.8" fill="#111111"/>
<circle cx="457.68" cy="244.42" r="1.8" fill="#111111"/>
<circle cx="453.63" cy="248.07" r="1.8" fill="#111111"/>
<circle cx="456.57" cy="255.35" r="1.8" fill="#111111"/>
<line x1="455.10" y1="242.48" x2="455.10" y2="245.63" stroke="#4a4a4a" stroke-width="0.9"/>
<line x1="453.50" y1="242.48" x2="456.70" y2="242.48" stroke="#4a4a4a" stroke-width="0.9"/>
<path d="M469.20 225.36 L471.10 228.78 L467.30 228.78 Z" fill="#7d1a28"/>
<path d="M466.62 214.42 L468.52 217.84 L464.72 217.84 Z" fill="#7d1a28"/>
<path d="M471.78 220.50 L473.68 223.92 L469.88 223.92 Z" fill="#7d1a28"/>
<path d="M467.73 215.15 L469.63 218.57 L465.83 218.57 Z" fill="#7d1a28"/>
<path d="M470.67 233.86 L472.57 237.28 L468.77 237.28 Z" fill="#7d1a28"/>
<path d="M465.89 226.57 L467.79 229.99 L463.99 229.99 Z" fill="#7d1a28"/>
<line x1="469.20" y1="224.49" x2="469.20" y2="227.41" stroke="#4a4a4a" stroke-width="0.9"/>
<line x1="467.60" y1="224.49" x2="470.80" y2="224.49" stroke="#4a4a4a" stroke-width="0.9"/>
<line x1="454.60" y1="212.70" x2="470.80" y2="212.70" stroke="#3a3a3a" stroke-width="1.0"/>
<text x="462.70" y="211.70" font-size="8.5" text-anchor="middle">*</text>
<text x="257.00" y="255.00" font-size="9.0" textLength="42.00" lengthAdjust="spacingAndGlyphs" transform="rotate(-90 257.00 255.00)">MFI (×10<tspan dy="-3.4" font-size="5.4">2</tspan><tspan dy="3.4">)</tspan></text>
<text x="376.60" y="255.00" font-size="9.0" textLength="42.00" lengthAdjust="spacingAndGlyphs" transform="rotate(-90 376.60 255.00)">MFI (×10<tspan dy="-3.4" font-size="5.4">2</tspan><tspan dy="3.4">)</tspan></text>
<circle cx="480.80" cy="213.00" r="1.9" fill="#111111"/>
<text x="486.20" y="215.80" font-size="8.8"><tspan font-style="italic">Ptpn1</tspan><tspan dy="-3.7" font-size="6.1">fl/fl</tspan></text>
<path d="M480.80 222.95 L482.70 226.37 L478.90 226.37 Z" fill="#7d1a28"/>
<text x="486.20" y="227.30" font-size="9.0"><tspan font-style="italic">Lck</tspan>-Cre;</text>
<text x="486.20" y="238.10" font-size="8.8"><tspan font-style="italic">Ptpn1</tspan><tspan dy="-3.7" font-size="6.1">fl/fl</tspan></text>
<text x="1.60" y="305.20" font-size="10.6" font-weight="bold">D</text>
<rect x="17.30" y="308.70" width="57.90" height="34.70" fill="none" stroke="#3a3a3a" stroke-width="1.0"/>
<line x1="17.30" y1="314.48" x2="18.60" y2="314.48" stroke="#3a3a3a" stroke-width="0.5"/>
<line x1="17.30" y1="320.27" x2="18.60" y2="320.27" stroke="#3a3a3a" stroke-width="0.5"/>
<line x1="17.30" y1="326.05" x2="18.60" y2="326.05" stroke="#3a3a3a" stroke-width="0.5"/>
<line x1="17.30" y1="331.83" x2="18.60" y2="331.83" stroke="#3a3a3a" stroke-width="0.5"/>
<line x1="17.30" y1="337.62" x2="18.60" y2="337.62" stroke="#3a3a3a" stroke-width="0.5"/>
<line x1="26.95" y1="343.40" x2="26.95" y2="342.10" stroke="#3a3a3a" stroke-width="0.5"/>
<line x1="36.60" y1="343.40" x2="36.60" y2="342.10" stroke="#3a3a3a" stroke-width="0.5"/>
<line x1="46.25" y1="343.40" x2="46.25" y2="342.10" stroke="#3a3a3a" stroke-width="0.5"/>
<line x1="55.90" y1="343.40" x2="55.90" y2="342.10" stroke="#3a3a3a" stroke-width="0.5"/>
<line x1="65.55" y1="343.40" x2="65.55" y2="342.10" stroke="#3a3a3a" stroke-width="0.5"/>
<rect x="17.30" y="346.50" width="57.90" height="34.10" fill="none" stroke="#3a3a3a" stroke-width="1.0"/>
<line x1="17.30" y1="352.18" x2="18.60" y2="352.18" stroke="#3a3a3a" stroke-width="0.5"/>
<line x1="17.30" y1="357.87" x2="18.60" y2="357.87" stroke="#3a3a3a" stroke-width="0.5"/>
<line x1="17.30" y1="363.55" x2="18.60" y2="363.55" stroke="#3a3a3a" stroke-width="0.5"/>
<line x1="17.30" y1="369.23" x2="18.60" y2="369.23" stroke="#3a3a3a" stroke-width="0.5"/>
<line x1="17.30" y1="374.92" x2="18.60" y2="374.92" stroke="#3a3a3a" stroke-width="0.5"/>
<line x1="26.95" y1="380.60" x2="26.95" y2="379.30" stroke="#3a3a3a" stroke-width="0.5"/>
<line x1="36.60" y1="380.60" x2="36.60" y2="379.30" stroke="#3a3a3a" stroke-width="0.5"/>
<line x1="46.25" y1="380.60" x2="46.25" y2="379.30" stroke="#3a3a3a" stroke-width="0.5"/>
<line x1="55.90" y1="380.60" x2="55.90" y2="379.30" stroke="#3a3a3a" stroke-width="0.5"/>
<line x1="65.55" y1="380.60" x2="65.55" y2="379.30" stroke="#3a3a3a" stroke-width="0.5"/>
<rect x="78.20" y="308.70" width="57.90" height="34.70" fill="none" stroke="#3a3a3a" stroke-width="1.0"/>
<line x1="78.20" y1="314.48" x2="79.50" y2="314.48" stroke="#3a3a3a" stroke-width="0.5"/>
<line x1="78.20" y1="320.27" x2="79.50" y2="320.27" stroke="#3a3a3a" stroke-width="0.5"/>
<line x1="78.20" y1="326.05" x2="79.50" y2="326.05" stroke="#3a3a3a" stroke-width="0.5"/>
<line x1="78.20" y1="331.83" x2="79.50" y2="331.83" stroke="#3a3a3a" stroke-width="0.5"/>
<line x1="78.20" y1="337.62" x2="79.50" y2="337.62" stroke="#3a3a3a" stroke-width="0.5"/>
<line x1="87.85" y1="343.40" x2="87.85" y2="342.10" stroke="#3a3a3a" stroke-width="0.5"/>
<line x1="97.50" y1="343.40" x2="97.50" y2="342.10" stroke="#3a3a3a" stroke-width="0.5"/>
<line x1="107.15" y1="343.40" x2="107.15" y2="342.10" stroke="#3a3a3a" stroke-width="0.5"/>
<line x1="116.80" y1="343.40" x2="116.80" y2="342.10" stroke="#3a3a3a" stroke-width="0.5"/>
<line x1="126.45" y1="343.40" x2="126.45" y2="342.10" stroke="#3a3a3a" stroke-width="0.5"/>
<rect x="78.20" y="346.50" width="57.90" height="34.10" fill="none" stroke="#3a3a3a" stroke-width="1.0"/>
<line x1="78.20" y1="352.18" x2="79.50" y2="352.18" stroke="#3a3a3a" stroke-width="0.5"/>
<line x1="78.20" y1="357.87" x2="79.50" y2="357.87" stroke="#3a3a3a" stroke-width="0.5"/>
<line x1="78.20" y1="363.55" x2="79.50" y2="363.55" stroke="#3a3a3a" stroke-width="0.5"/>
<line x1="78.20" y1="369.23" x2="79.50" y2="369.23" stroke="#3a3a3a" stroke-width="0.5"/>
<line x1="78.20" y1="374.92" x2="79.50" y2="374.92" stroke="#3a3a3a" stroke-width="0.5"/>
<line x1="87.85" y1="380.60" x2="87.85" y2="379.30" stroke="#3a3a3a" stroke-width="0.5"/>
<line x1="97.50" y1="380.60" x2="97.50" y2="379.30" stroke="#3a3a3a" stroke-width="0.5"/>
<line x1="107.15" y1="380.60" x2="107.15" y2="379.30" stroke="#3a3a3a" stroke-width="0.5"/>
<line x1="116.80" y1="380.60" x2="116.80" y2="379.30" stroke="#3a3a3a" stroke-width="0.5"/>
<line x1="126.45" y1="380.60" x2="126.45" y2="379.30" stroke="#3a3a3a" stroke-width="0.5"/>
<polyline points="18.00,343.30 19.31,343.31 21.22,343.32 23.44,343.34 25.67,343.34 27.62,343.33 29.00,343.30 29.74,343.29 30.07,343.32 30.11,343.34 30.02,343.28 29.94,343.08 30.00,342.70 30.19,342.12 30.39,341.40 30.59,340.54 30.80,339.57 31.00,338.48 31.20,337.30 31.38,336.00 31.56,334.57 31.73,333.03 31.91,331.41 32.09,329.72 32.30,328.00 32.53,326.14 32.78,324.10 33.04,322.00 33.31,319.96 33.56,318.08 33.80,316.50 34.02,315.15 34.22,313.93 34.42,312.88 34.61,312.04 34.80,311.47 35.00,311.20 35.20,311.33 35.40,311.83 35.61,312.60 35.81,313.51 36.01,314.45 36.20,315.30 36.38,316.07 36.54,316.86 36.71,317.68 36.88,318.53 37.07,319.43 37.30,320.40 37.57,321.47 37.89,322.65 38.22,323.88 38.56,325.10 38.89,326.26 39.20,327.30 39.48,328.23 39.74,329.09 40.00,329.89 40.26,330.62 40.52,331.29 40.80,331.90 41.09,332.45 41.40,332.94 41.71,333.36 42.03,333.72 42.36,334.00 42.70,334.20 43.06,334.31 43.42,334.34 43.80,334.29 44.19,334.17 44.59,334.01 45.00,333.80 45.44,333.47 45.90,332.99 46.38,332.46 46.84,331.97 47.29,331.62 47.70,331.50 48.07,331.65 48.40,331.99 48.72,332.47 49.02,333.03 49.31,333.63 49.60,334.20 49.88,334.77 50.14,335.38 50.40,336.02 50.66,336.69 50.92,337.35 51.20,338.00 51.50,338.67 51.81,339.39 52.13,340.10 52.46,340.78 52.78,341.39 53.10,341.90 53.21,342.29 53.08,342.60 52.95,342.84 53.06,343.03 53.66,343.18 55.00,343.30 57.46,343.38 60.92,343.40 64.87,343.39 68.79,343.35 72.17,343.32 74.50,343.30" fill="none" stroke="#e6474f" stroke-width="0.95" stroke-linejoin="round"/>
<polyline points="18.00,343.30 19.31,343.31 21.22,343.32 23.44,343.34 25.67,343.34 27.62,343.33 29.00,343.30 29.74,343.29 30.07,343.32 30.11,343.34 30.02,343.28 29.94,343.08 30.00,342.70 30.19,342.12 30.39,341.40 30.59,340.54 30.80,339.57 31.00,338.48 31.20,337.30 31.38,336.00 31.56,334.57 31.73,333.03 31.91,331.41 32.09,329.72 32.30,328.00 32.53,326.14 32.78,324.10 33.04,322.00 33.31,319.96 33.56,318.08 33.80,316.50 34.02,315.15 34.22,313.93 34.42,312.88 34.61,312.04 34.80,311.47 35.00,311.20 35.20,311.33 35.40,311.83 35.61,312.60 35.81,313.51 36.01,314.45 36.20,315.30 36.38,316.07 36.54,316.86 36.71,317.68 36.88,318.53 37.07,319.43 37.30,320.40 37.57,321.47 37.89,322.65 38.22,323.88 38.56,325.10 38.89,326.26 39.20,327.30 39.48,328.20 39.74,329.00 40.00,329.74 40.26,330.45 40.52,331.16 40.80,331.90 41.09,332.70 41.40,333.55 41.71,334.39 42.03,335.20 42.36,335.91 42.70,336.50 43.06,336.95 43.44,337.31 43.83,337.58 44.22,337.78 44.61,337.91 45.00,338.00 45.39,337.99 45.80,337.88 46.20,337.70 46.59,337.51 46.96,337.36 47.30,337.30 47.59,337.31 47.84,337.34 48.07,337.41 48.29,337.53 48.53,337.72 48.80,338.00 49.11,338.41 49.45,338.94 49.80,339.55 50.15,340.17 50.49,340.74 50.80,341.20 51.08,341.56 51.33,341.86 51.57,342.11 51.80,342.33 52.04,342.52 52.30,342.70 52.35,342.86 52.16,342.99 51.96,343.09 52.03,343.18 52.63,343.25 54.00,343.30 56.57,343.33 60.20,343.34 64.36,343.34 68.49,343.32 72.05,343.31 74.50,343.30" fill="none" stroke="#222" stroke-width="0.85" stroke-linejoin="round"/>
<polyline points="79.00,343.30 80.19,343.31 81.93,343.32 83.94,343.34 85.96,343.34 87.74,343.33 89.00,343.30 89.68,343.28 89.99,343.29 90.04,343.27 89.98,343.20 89.92,343.03 90.00,342.70 90.20,342.21 90.41,341.59 90.62,340.86 90.85,340.06 91.07,339.19 91.30,338.30 91.52,337.41 91.74,336.50 91.96,335.54 92.19,334.49 92.44,333.28 92.70,331.90 92.99,330.24 93.30,328.32 93.62,326.26 93.95,324.17 94.28,322.18 94.60,320.40 94.92,318.67 95.23,316.85 95.54,315.12 95.86,313.67 96.18,312.67 96.50,312.30 96.83,312.71 97.18,313.79 97.53,315.32 97.87,317.08 98.19,318.85 98.50,320.40 98.78,321.83 99.04,323.31 99.28,324.81 99.52,326.26 99.76,327.61 100.00,328.80 100.24,329.83 100.48,330.76 100.72,331.58 100.96,332.31 101.22,332.94 101.50,333.50 101.79,333.97 102.09,334.36 102.41,334.66 102.74,334.87 103.10,334.98 103.50,335.00 103.94,334.88 104.42,334.62 104.93,334.26 105.46,333.86 105.98,333.46 106.50,333.10 107.02,332.75 107.57,332.37 108.12,331.99 108.65,331.64 109.15,331.37 109.60,331.20 109.98,331.13 110.32,331.12 110.62,331.19 110.90,331.33 111.19,331.57 111.50,331.90 111.83,332.37 112.16,332.97 112.50,333.66 112.84,334.39 113.17,335.12 113.50,335.80 113.82,336.45 114.14,337.10 114.46,337.75 114.77,338.39 115.08,339.01 115.40,339.60 115.72,340.19 116.04,340.78 116.36,341.35 116.68,341.88 116.99,342.34 117.30,342.70 117.42,342.95 117.33,343.11 117.24,343.19 117.34,343.24 117.86,343.26 119.00,343.30 121.08,343.33 124.01,343.34 127.36,343.34 130.67,343.32 133.53,343.31 135.50,343.30" fill="none" stroke="#e6474f" stroke-width="0.95" stroke-linejoin="round"/>
<polyline points="79.00,343.30 80.19,343.31 81.93,343.32 83.94,343.34 85.96,343.34 87.74,343.33 89.00,343.30 89.68,343.28 89.99,343.29 90.04,343.27 89.98,343.20 89.92,343.03 90.00,342.70 90.20,342.21 90.41,341.59 90.62,340.86 90.85,340.06 91.07,339.19 91.30,338.30 91.52,337.41 91.74,336.50 91.96,335.54 92.19,334.49 92.44,333.28 92.70,331.90 92.99,330.24 93.30,328.32 93.62,326.26 93.95,324.17 94.28,322.18 94.60,320.40 94.92,318.67 95.23,316.85 95.54,315.12 95.86,313.67 96.18,312.67 96.50,312.30 96.83,312.71 97.18,313.79 97.53,315.32 97.87,317.08 98.19,318.85 98.50,320.40 98.78,321.83 99.04,323.31 99.28,324.81 99.52,326.26 99.76,327.61 100.00,328.80 100.24,329.79 100.48,330.62 100.72,331.34 100.96,332.03 101.22,332.72 101.50,333.50 101.79,334.39 102.09,335.34 102.41,336.32 102.74,337.26 103.10,338.10 103.50,338.80 103.94,339.36 104.42,339.81 104.93,340.18 105.46,340.46 105.98,340.67 106.50,340.80 107.02,340.83 107.57,340.74 108.12,340.58 108.65,340.37 109.15,340.17 109.60,340.00 109.98,339.84 110.32,339.64 110.62,339.45 110.90,339.29 111.19,339.19 111.50,339.20 111.82,339.32 112.15,339.54 112.47,339.83 112.81,340.16 113.15,340.49 113.50,340.80 113.87,341.11 114.27,341.46 114.67,341.81 115.07,342.15 115.45,342.46 115.80,342.70 115.93,342.88 115.81,343.02 115.67,343.12 115.75,343.19 116.28,343.25 117.50,343.30 119.77,343.33 122.96,343.34 126.61,343.34 130.23,343.32 133.35,343.31 135.50,343.30" fill="none" stroke="#222" stroke-width="0.85" stroke-linejoin="round"/>
<polyline points="18.00,380.50 19.34,380.55 21.29,380.65 23.56,380.75 25.84,380.80 27.85,380.73 29.30,380.50 30.12,380.20 30.53,379.91 30.66,379.50 30.66,378.87 30.66,377.91 30.80,376.50 31.05,374.48 31.31,371.89 31.56,368.97 31.81,365.95 32.06,363.05 32.30,360.50 32.53,358.07 32.75,355.52 32.96,353.10 33.17,351.03 33.39,349.56 33.60,348.90 33.82,349.20 34.03,350.29 34.24,351.97 34.46,354.04 34.68,356.28 34.90,358.50 35.13,360.92 35.36,363.77 35.59,366.79 35.83,369.74 36.07,372.40 36.30,374.50 36.53,376.02 36.75,377.13 36.98,377.94 37.20,378.54 37.44,379.03 37.70,379.50 37.91,379.91 38.06,380.18 38.22,380.33 38.46,380.41 38.87,380.45 39.50,380.50 40.45,380.53 41.67,380.50 43.05,380.44 44.47,380.36 45.83,380.28 47.00,380.20 47.99,380.12 48.89,380.02 49.72,379.91 50.50,379.81 51.25,379.74 52.00,379.70 52.72,379.70 53.41,379.73 54.06,379.79 54.70,379.86 55.34,379.93 56.00,380.00 56.55,380.08 56.94,380.17 57.34,380.27 57.89,380.36 58.73,380.44 60.00,380.50 61.98,380.53 64.59,380.54 67.50,380.53 70.35,380.52 72.80,380.51 74.50,380.50" fill="none" stroke="#e6474f" stroke-width="0.95" stroke-linejoin="round"/>
<polyline points="18.00,380.50 19.34,380.55 21.29,380.65 23.56,380.75 25.84,380.80 27.85,380.73 29.30,380.50 30.12,380.20 30.53,379.91 30.66,379.50 30.66,378.87 30.66,377.91 30.80,376.50 31.05,374.48 31.31,371.89 31.56,368.97 31.81,365.95 32.06,363.05 32.30,360.50 32.53,358.07 32.75,355.52 32.96,353.10 33.17,351.03 33.39,349.56 33.60,348.90 33.82,349.20 34.03,350.29 34.24,351.97 34.46,354.04 34.68,356.28 34.90,358.50 35.13,360.92 35.36,363.77 35.59,366.79 35.83,369.74 36.07,372.40 36.30,374.50 36.53,376.02 36.75,377.13 36.98,377.94 37.20,378.54 37.44,379.03 37.70,379.50 37.59,379.91 37.04,380.17 36.50,380.31 36.43,380.39 37.27,380.44 39.50,380.50 43.82,380.56 50.00,380.57 57.11,380.56 64.20,380.54 70.31,380.51 74.50,380.50" fill="none" stroke="#222" stroke-width="0.85" stroke-linejoin="round"/>
<polyline points="79.00,380.50 80.13,380.51 81.77,380.52 83.68,380.54 85.60,380.54 87.29,380.53 88.50,380.50 89.16,380.54 89.44,380.69 89.50,380.82 89.46,380.82 89.44,380.55 89.60,379.90 89.92,378.81 90.29,377.38 90.70,375.68 91.12,373.81 91.53,371.85 91.90,369.90 92.24,367.84 92.57,365.57 92.89,363.22 93.20,360.90 93.51,358.72 93.80,356.80 94.09,355.08 94.38,353.47 94.66,352.00 94.93,350.71 95.18,349.63 95.40,348.80 95.59,348.24 95.75,347.92 95.89,347.82 96.02,347.90 96.15,348.14 96.30,348.50 96.46,349.10 96.61,349.97 96.76,350.99 96.93,352.06 97.10,353.03 97.30,353.80 97.52,354.36 97.76,354.80 98.01,355.16 98.27,355.46 98.54,355.73 98.80,356.00 99.06,356.29 99.31,356.59 99.58,356.86 99.84,357.07 100.11,357.19 100.40,357.20 100.69,357.03 100.98,356.70 101.28,356.27 101.60,355.85 101.93,355.50 102.30,355.30 102.71,355.22 103.16,355.20 103.62,355.24 104.10,355.39 104.56,355.67 105.00,356.10 105.41,356.73 105.80,357.53 106.18,358.47 106.55,359.48 106.92,360.51 107.30,361.50 107.68,362.48 108.07,363.51 108.45,364.55 108.83,365.59 109.22,366.62 109.60,367.60 109.98,368.55 110.37,369.48 110.75,370.39 111.13,371.29 111.52,372.15 111.90,373.00 112.28,373.84 112.67,374.68 113.05,375.49 113.43,376.27 113.82,376.98 114.20,377.60 114.59,378.14 115.00,378.60 115.40,379.00 115.79,379.34 116.16,379.64 116.50,379.90 116.61,380.11 116.47,380.25 116.30,380.34 116.34,380.41 116.83,380.45 118.00,380.50 120.19,380.53 123.30,380.54 126.84,380.54 130.37,380.52 133.41,380.51 135.50,380.50" fill="none" stroke="#e6474f" stroke-width="0.95" stroke-linejoin="round"/>
<polyline points="79.00,380.50 80.13,380.51 81.77,380.52 83.68,380.54 85.60,380.54 87.29,380.53 88.50,380.50 89.16,380.54 89.44,380.69 89.50,380.82 89.46,380.82 89.44,380.55 89.60,379.90 89.92,378.81 90.29,377.38 90.70,375.68 91.12,373.81 91.53,371.85 91.90,369.90 92.24,367.84 92.57,365.57 92.89,363.22 93.20,360.90 93.51,358.72 93.80,356.80 94.09,355.08 94.38,353.47 94.66,352.00 94.93,350.71 95.18,349.63 95.40,348.80 95.59,348.25 95.76,347.95 95.91,347.87 96.05,347.96 96.18,348.18 96.30,348.50 96.42,348.92 96.51,349.47 96.61,350.16 96.70,350.97 96.79,351.92 96.90,353.00 97.01,354.30 97.13,355.83 97.24,357.49 97.37,359.18 97.52,360.79 97.70,362.20 97.90,363.47 98.13,364.68 98.38,365.81 98.64,366.82 98.91,367.70 99.20,368.40 99.50,368.88 99.82,369.14 100.15,369.26 100.49,369.31 100.84,369.37 101.20,369.50 101.57,369.70 101.94,369.91 102.33,370.12 102.72,370.33 103.11,370.52 103.50,370.70 103.88,370.84 104.27,370.94 104.65,371.03 105.03,371.14 105.42,371.28 105.80,371.50 106.17,371.80 106.54,372.16 106.90,372.56 107.27,372.98 107.67,373.40 108.10,373.80 108.57,374.18 109.08,374.57 109.61,374.95 110.14,375.33 110.68,375.72 111.20,376.10 111.71,376.49 112.23,376.90 112.75,377.30 113.26,377.69 113.74,378.06 114.20,378.40 114.63,378.71 115.05,378.99 115.44,379.26 115.82,379.50 116.17,379.71 116.50,379.90 116.61,380.06 116.47,380.19 116.30,380.29 116.34,380.38 116.83,380.45 118.00,380.50 120.19,380.53 123.30,380.54 126.84,380.54 130.37,380.52 133.41,380.51 135.50,380.50" fill="none" stroke="#222" stroke-width="0.85" stroke-linejoin="round"/>
<line x1="17.30" y1="343.40" x2="75.20" y2="343.40" stroke="#3a3a3a" stroke-width="1.0"/>
<line x1="17.30" y1="380.60" x2="75.20" y2="380.60" stroke="#3a3a3a" stroke-width="1.0"/>
<line x1="78.20" y1="343.40" x2="136.10" y2="343.40" stroke="#3a3a3a" stroke-width="1.0"/>
<line x1="78.20" y1="380.60" x2="136.10" y2="380.60" stroke="#3a3a3a" stroke-width="1.0"/>
<text x="13.80" y="337.00" font-size="9.0" textLength="20.00" lengthAdjust="spacingAndGlyphs" transform="rotate(-90 13.80 337.00)">CD8<tspan dy="-3.4" font-size="5.4">+</tspan></text>
<text x="13.80" y="374.00" font-size="9.0" textLength="19.50" lengthAdjust="spacingAndGlyphs" transform="rotate(-90 13.80 374.00)">CD4<tspan dy="-3.4" font-size="5.4">+</tspan></text>
<line x1="18.10" y1="388.80" x2="32.90" y2="388.80" stroke="#3a3a3a" stroke-width="1.0"/>
<text x="34.20" y="391.90" font-size="9.0" textLength="27.50" lengthAdjust="spacingAndGlyphs">Eomes</text>
<line x1="63.30" y1="388.80" x2="73.00" y2="388.80" stroke="#3a3a3a" stroke-width="1.0"/>
<path d="M76.50 388.80 L72.00 386.60 L72.00 391.00 Z" fill="#231f20"/>
<line x1="79.50" y1="388.80" x2="95.60" y2="388.80" stroke="#3a3a3a" stroke-width="1.0"/>
<text x="96.70" y="391.90" font-size="9.0" textLength="21.80" lengthAdjust="spacingAndGlyphs">T-bet</text>
<line x1="120.40" y1="388.80" x2="133.00" y2="388.80" stroke="#3a3a3a" stroke-width="1.0"/>
<path d="M136.50 388.80 L132.00 386.60 L132.00 391.00 Z" fill="#231f20"/>
<line x1="138.70" y1="316.40" x2="144.80" y2="316.40" stroke="#222" stroke-width="1.1"/>
<text x="147.90" y="319.50" font-size="8.8"><tspan font-style="italic">Ptpn1</tspan><tspan dy="-3.7" font-size="6.1">fl/fl</tspan></text>
<line x1="138.70" y1="330.70" x2="144.80" y2="330.70" stroke="#e6474f" stroke-width="1.1"/>
<text x="147.90" y="334.30" font-size="9.0"><tspan font-style="italic">Lck</tspan>-Cre;</text>
<text x="147.90" y="344.40" font-size="8.8"><tspan font-style="italic">Ptpn1</tspan><tspan dy="-3.7" font-size="6.1">fl/fl</tspan></text>
<text x="235.40" y="312.90" font-size="9.0" textLength="49.10" lengthAdjust="spacingAndGlyphs">CD8<tspan dy="-3.4" font-size="5.4">+</tspan><tspan dy="3.4"> T cells</tspan></text>
<line x1="215.40" y1="317.10" x2="305.40" y2="317.10" stroke="#3a3a3a" stroke-width="1.0"/>
<text x="379.80" y="312.90" font-size="9.0" textLength="49.00" lengthAdjust="spacingAndGlyphs">CD4<tspan dy="-3.4" font-size="5.4">+</tspan><tspan dy="3.4"> T cells</tspan></text>
<line x1="359.50" y1="316.40" x2="444.30" y2="316.40" stroke="#3a3a3a" stroke-width="1.0"/>
<line x1="216.40" y1="325.70" x2="216.40" y2="376.00" stroke="#3a3a3a" stroke-width="0.9"/>
<line x1="213.80" y1="376.00" x2="216.40" y2="376.00" stroke="#3a3a3a" stroke-width="0.9"/>
<text x="211.20" y="379.31" font-size="9.2" text-anchor="end">0</text>
<line x1="213.80" y1="363.43" x2="216.40" y2="363.43" stroke="#3a3a3a" stroke-width="0.9"/>
<text x="211.20" y="366.74" font-size="9.2" text-anchor="end">10</text>
<line x1="213.80" y1="350.85" x2="216.40" y2="350.85" stroke="#3a3a3a" stroke-width="0.9"/>
<text x="211.20" y="354.16" font-size="9.2" text-anchor="end">20</text>
<line x1="213.80" y1="338.27" x2="216.40" y2="338.27" stroke="#3a3a3a" stroke-width="0.9"/>
<text x="211.20" y="341.59" font-size="9.2" text-anchor="end">30</text>
<line x1="213.80" y1="325.70" x2="216.40" y2="325.70" stroke="#3a3a3a" stroke-width="0.9"/>
<text x="211.20" y="329.01" font-size="9.2" text-anchor="end">40</text>
<line x1="216.40" y1="376.00" x2="248.00" y2="376.00" stroke="#3a3a3a" stroke-width="0.9"/>
<rect x="221.50" y="352.36" width="9.50" height="23.64" fill="#fff" stroke="#4a4a4a" stroke-width="1"/>
<rect x="236.00" y="339.03" width="9.50" height="36.97" fill="#fff" stroke="#4a4a4a" stroke-width="1"/>
<circle cx="226.25" cy="348.59" r="1.8" fill="#111111"/>
<circle cx="223.59" cy="348.96" r="1.8" fill="#111111"/>
<circle cx="228.91" cy="350.85" r="1.8" fill="#111111"/>
<circle cx="224.73" cy="355.88" r="1.8" fill="#111111"/>
<line x1="226.25" y1="349.47" x2="226.25" y2="352.36" stroke="#4a4a4a" stroke-width="0.9"/>
<line x1="224.65" y1="349.47" x2="227.85" y2="349.47" stroke="#4a4a4a" stroke-width="0.9"/>
<path d="M240.75 335.97 L242.65 339.39 L238.85 339.39 Z" fill="#7d1a28"/>
<path d="M238.09 336.22 L239.99 339.64 L236.19 339.64 Z" fill="#7d1a28"/>
<path d="M243.41 337.23 L245.31 340.65 L241.51 340.65 Z" fill="#7d1a28"/>
<path d="M239.23 336.73 L241.13 340.15 L237.33 340.15 Z" fill="#7d1a28"/>
<path d="M242.27 337.73 L244.17 341.15 L240.37 341.15 Z" fill="#7d1a28"/>
<path d="M237.33 336.35 L239.23 339.77 L235.43 339.77 Z" fill="#7d1a28"/>
<line x1="226.40" y1="330.80" x2="240.50" y2="330.80" stroke="#3a3a3a" stroke-width="1.0"/>
<text x="233.45" y="329.80" font-size="8.5" text-anchor="middle">*</text>
<line x1="284.50" y1="325.70" x2="284.50" y2="376.40" stroke="#3a3a3a" stroke-width="0.9"/>
<line x1="281.90" y1="376.40" x2="284.50" y2="376.40" stroke="#3a3a3a" stroke-width="0.9"/>
<text x="279.30" y="379.71" font-size="9.2" text-anchor="end">0</text>
<line x1="281.90" y1="366.26" x2="284.50" y2="366.26" stroke="#3a3a3a" stroke-width="0.9"/>
<text x="279.30" y="369.57" font-size="9.2" text-anchor="end">10</text>
<line x1="281.90" y1="356.12" x2="284.50" y2="356.12" stroke="#3a3a3a" stroke-width="0.9"/>
<text x="279.30" y="359.43" font-size="9.2" text-anchor="end">20</text>
<line x1="281.90" y1="345.98" x2="284.50" y2="345.98" stroke="#3a3a3a" stroke-width="0.9"/>
<text x="279.30" y="349.29" font-size="9.2" text-anchor="end">30</text>
<line x1="281.90" y1="335.84" x2="284.50" y2="335.84" stroke="#3a3a3a" stroke-width="0.9"/>
<text x="279.30" y="339.15" font-size="9.2" text-anchor="end">40</text>
<line x1="281.90" y1="325.70" x2="284.50" y2="325.70" stroke="#3a3a3a" stroke-width="0.9"/>
<text x="279.30" y="329.01" font-size="9.2" text-anchor="end">50</text>
<line x1="284.50" y1="376.40" x2="315.50" y2="376.40" stroke="#3a3a3a" stroke-width="0.9"/>
<rect x="289.20" y="357.03" width="9.50" height="19.37" fill="#fff" stroke="#4a4a4a" stroke-width="1"/>
<rect x="303.50" y="345.57" width="9.50" height="30.83" fill="#fff" stroke="#4a4a4a" stroke-width="1"/>
<circle cx="293.95" cy="355.11" r="1.8" fill="#111111"/>
<circle cx="291.29" cy="355.82" r="1.8" fill="#111111"/>
<circle cx="296.61" cy="356.63" r="1.8" fill="#111111"/>
<circle cx="292.43" cy="362.41" r="1.8" fill="#111111"/>
<line x1="293.95" y1="355.21" x2="293.95" y2="357.03" stroke="#4a4a4a" stroke-width="0.9"/>
<line x1="292.35" y1="355.21" x2="295.55" y2="355.21" stroke="#4a4a4a" stroke-width="0.9"/>
<path d="M308.25 343.93 L310.15 347.35 L306.35 347.35 Z" fill="#7d1a28"/>
<path d="M305.59 336.32 L307.49 339.74 L303.69 339.74 Z" fill="#7d1a28"/>
<path d="M310.91 345.45 L312.81 348.87 L309.01 348.87 Z" fill="#7d1a28"/>
<path d="M306.73 342.41 L308.63 345.83 L304.83 345.83 Z" fill="#7d1a28"/>
<path d="M309.77 346.46 L311.67 349.88 L307.87 349.88 Z" fill="#7d1a28"/>
<path d="M304.83 344.43 L306.73 347.85 L302.93 347.85 Z" fill="#7d1a28"/>
<line x1="308.25" y1="343.55" x2="308.25" y2="345.57" stroke="#4a4a4a" stroke-width="0.9"/>
<line x1="306.65" y1="343.55" x2="309.85" y2="343.55" stroke="#4a4a4a" stroke-width="0.9"/>
<line x1="295.00" y1="331.40" x2="309.20" y2="331.40" stroke="#3a3a3a" stroke-width="1.0"/>
<text x="302.10" y="330.40" font-size="8.5" text-anchor="middle">*</text>
<line x1="359.50" y1="325.70" x2="359.50" y2="376.40" stroke="#3a3a3a" stroke-width="0.9"/>
<line x1="356.90" y1="376.40" x2="359.50" y2="376.40" stroke="#3a3a3a" stroke-width="0.9"/>
<text x="354.30" y="379.71" font-size="9.2" text-anchor="end">0</text>
<line x1="356.90" y1="363.72" x2="359.50" y2="363.72" stroke="#3a3a3a" stroke-width="0.9"/>
<text x="354.30" y="367.04" font-size="9.2" text-anchor="end">2</text>
<line x1="356.90" y1="351.05" x2="359.50" y2="351.05" stroke="#3a3a3a" stroke-width="0.9"/>
<text x="354.30" y="354.36" font-size="9.2" text-anchor="end">4</text>
<line x1="356.90" y1="338.38" x2="359.50" y2="338.38" stroke="#3a3a3a" stroke-width="0.9"/>
<text x="354.30" y="341.69" font-size="9.2" text-anchor="end">6</text>
<line x1="356.90" y1="325.70" x2="359.50" y2="325.70" stroke="#3a3a3a" stroke-width="0.9"/>
<text x="354.30" y="329.01" font-size="9.2" text-anchor="end">8</text>
<line x1="359.50" y1="376.40" x2="390.50" y2="376.40" stroke="#3a3a3a" stroke-width="0.9"/>
<rect x="364.20" y="359.29" width="9.50" height="17.11" fill="#fff" stroke="#4a4a4a" stroke-width="1"/>
<rect x="378.50" y="342.81" width="9.50" height="33.59" fill="#fff" stroke="#4a4a4a" stroke-width="1"/>
<circle cx="368.95" cy="359.29" r="1.8" fill="#111111"/>
<circle cx="366.29" cy="353.58" r="1.8" fill="#111111"/>
<circle cx="371.61" cy="358.65" r="1.8" fill="#111111"/>
<circle cx="367.43" cy="363.09" r="1.8" fill="#111111"/>
<line x1="368.95" y1="357.07" x2="368.95" y2="359.29" stroke="#4a4a4a" stroke-width="0.9"/>
<line x1="367.35" y1="357.07" x2="370.55" y2="357.07" stroke="#4a4a4a" stroke-width="0.9"/>
<path d="M383.25 340.76 L385.15 344.18 L381.35 344.18 Z" fill="#7d1a28"/>
<path d="M380.59 335.69 L382.49 339.11 L378.69 339.11 Z" fill="#7d1a28"/>
<path d="M385.91 342.03 L387.81 345.45 L384.01 345.45 Z" fill="#7d1a28"/>
<path d="M381.73 337.59 L383.63 341.01 L379.83 341.01 Z" fill="#7d1a28"/>
<path d="M384.77 339.49 L386.67 342.91 L382.87 342.91 Z" fill="#7d1a28"/>
<path d="M379.83 342.66 L381.73 346.08 L377.93 346.08 Z" fill="#7d1a28"/>
<line x1="369.50" y1="329.50" x2="384.20" y2="329.50" stroke="#3a3a3a" stroke-width="1.0"/>
<text x="376.85" y="328.50" font-size="8.5" text-anchor="middle">*</text>
<line x1="429.50" y1="325.80" x2="429.50" y2="376.60" stroke="#3a3a3a" stroke-width="0.9"/>
<line x1="426.90" y1="376.60" x2="429.50" y2="376.60" stroke="#3a3a3a" stroke-width="0.9"/>
<text x="424.30" y="379.91" font-size="9.2" text-anchor="end">0</text>
<line x1="426.90" y1="363.90" x2="429.50" y2="363.90" stroke="#3a3a3a" stroke-width="0.9"/>
<text x="424.30" y="367.21" font-size="9.2" text-anchor="end">20</text>
<line x1="426.90" y1="351.20" x2="429.50" y2="351.20" stroke="#3a3a3a" stroke-width="0.9"/>
<text x="424.30" y="354.51" font-size="9.2" text-anchor="end">40</text>
<line x1="426.90" y1="338.50" x2="429.50" y2="338.50" stroke="#3a3a3a" stroke-width="0.9"/>
<text x="424.30" y="341.81" font-size="9.2" text-anchor="end">60</text>
<line x1="426.90" y1="325.80" x2="429.50" y2="325.80" stroke="#3a3a3a" stroke-width="0.9"/>
<text x="424.30" y="329.11" font-size="9.2" text-anchor="end">80</text>
<line x1="429.50" y1="376.60" x2="462.50" y2="376.60" stroke="#3a3a3a" stroke-width="0.9"/>
<rect x="435.30" y="351.20" width="10.20" height="25.40" fill="#fff" stroke="#4a4a4a" stroke-width="1"/>
<rect x="450.30" y="334.69" width="9.70" height="41.91" fill="#fff" stroke="#4a4a4a" stroke-width="1"/>
<circle cx="440.40" cy="351.20" r="1.8" fill="#111111"/>
<circle cx="437.54" cy="341.68" r="1.8" fill="#111111"/>
<circle cx="443.26" cy="352.47" r="1.8" fill="#111111"/>
<circle cx="438.77" cy="354.38" r="1.8" fill="#111111"/>
<line x1="440.40" y1="348.03" x2="440.40" y2="351.20" stroke="#4a4a4a" stroke-width="0.9"/>
<line x1="438.80" y1="348.03" x2="442.00" y2="348.03" stroke="#4a4a4a" stroke-width="0.9"/>
<path d="M455.15 332.64 L457.05 336.06 L453.25 336.06 Z" fill="#7d1a28"/>
<path d="M452.43 326.29 L454.33 329.71 L450.53 329.71 Z" fill="#7d1a28"/>
<path d="M457.87 335.18 L459.77 338.60 L455.97 338.60 Z" fill="#7d1a28"/>
<path d="M453.60 330.10 L455.50 333.52 L451.70 333.52 Z" fill="#7d1a28"/>
<path d="M456.70 333.91 L458.60 337.33 L454.80 337.33 Z" fill="#7d1a28"/>
<path d="M451.66 335.81 L453.56 339.23 L449.76 339.23 Z" fill="#7d1a28"/>
<line x1="441.00" y1="323.80" x2="454.90" y2="323.80" stroke="#3a3a3a" stroke-width="1.0"/>
<text x="447.95" y="322.80" font-size="8.5" text-anchor="middle">*</text>
<text x="221.00" y="386.50" font-size="9.0" textLength="28.00" lengthAdjust="spacingAndGlyphs">Eomes</text>
<text x="363.80" y="386.50" font-size="9.0" textLength="27.20" lengthAdjust="spacingAndGlyphs">Eomes</text>
<text x="290.20" y="385.60" font-size="9.0" textLength="19.90" lengthAdjust="spacingAndGlyphs">T-bet</text>
<text x="435.80" y="385.60" font-size="9.0" textLength="20.70" lengthAdjust="spacingAndGlyphs">T-bet</text>
<text x="195.50" y="374.00" font-size="9.0" textLength="47.40" lengthAdjust="spacingAndGlyphs" transform="rotate(-90 195.50 374.00)">Eomes<tspan dy="-3.4" font-size="5.4">+</tspan><tspan dy="3.4"> (%)</tspan></text>
<text x="263.50" y="369.00" font-size="9.0" textLength="41.00" lengthAdjust="spacingAndGlyphs" transform="rotate(-90 263.50 369.00)">T-bet<tspan dy="-3.4" font-size="5.4">+</tspan><tspan dy="3.4"> (%)</tspan></text>
<text x="342.00" y="374.00" font-size="9.0" textLength="47.40" lengthAdjust="spacingAndGlyphs" transform="rotate(-90 342.00 374.00)">Eomes<tspan dy="-3.4" font-size="5.4">+</tspan><tspan dy="3.4"> (%)</tspan></text>
<text x="408.50" y="369.00" font-size="9.0" textLength="41.00" lengthAdjust="spacingAndGlyphs" transform="rotate(-90 408.50 369.00)">T-bet<tspan dy="-3.4" font-size="5.4">+</tspan><tspan dy="3.4"> (%)</tspan></text>
<circle cx="469.70" cy="325.80" r="1.9" fill="#111111"/>
<text x="475.00" y="328.20" font-size="8.8"><tspan font-style="italic">Ptpn1</tspan><tspan dy="-3.7" font-size="6.1">fl/fl</tspan></text>
<path d="M469.70 335.95 L471.60 339.37 L467.80 339.37 Z" fill="#7d1a28"/>
<text x="475.00" y="340.40" font-size="9.0"><tspan font-style="italic">Lck</tspan>-Cre;</text>
<text x="475.00" y="351.20" font-size="8.8"><tspan font-style="italic">Ptpn1</tspan><tspan dy="-3.7" font-size="6.1">fl/fl</tspan></text>
<text x="2.40" y="413.90" font-size="10.6" font-weight="bold">E</text>
<rect x="17.10" y="428.10" width="56.10" height="77.40" fill="none" stroke="#3a3a3a" stroke-width="1.0"/>
<line x1="17.10" y1="447.50" x2="73.20" y2="447.50" stroke="#3a3a3a" stroke-width="0.9"/>
<line x1="17.10" y1="466.60" x2="73.20" y2="466.60" stroke="#3a3a3a" stroke-width="0.9"/>
<line x1="17.10" y1="486.20" x2="73.20" y2="486.20" stroke="#3a3a3a" stroke-width="0.9"/>
<polyline points="17.40,447.50 18.95,447.51 21.21,447.53 23.82,447.55 26.47,447.56 28.81,447.55 30.50,447.50 31.48,447.45 32.00,447.42 32.21,447.36 32.27,447.25 32.31,447.04 32.50,446.70 32.80,446.24 33.10,445.69 33.39,445.05 33.67,444.31 33.94,443.46 34.20,442.50 34.45,441.34 34.69,439.97 34.93,438.50 35.15,437.03 35.38,435.66 35.60,434.50 35.82,433.48 36.04,432.51 36.26,431.64 36.47,430.94 36.68,430.47 36.90,430.30 37.12,430.47 37.33,430.94 37.54,431.64 37.76,432.51 37.98,433.48 38.20,434.50 38.42,435.66 38.65,437.03 38.88,438.50 39.11,439.97 39.35,441.34 39.60,442.50 39.86,443.46 40.13,444.31 40.40,445.05 40.69,445.69 40.98,446.24 41.30,446.70 41.32,447.04 40.99,447.25 40.67,447.36 40.73,447.42 41.55,447.45 43.50,447.50 47.17,447.55 52.37,447.56 58.34,447.55 64.27,447.53 69.39,447.51 72.90,447.50" fill="none" stroke="#222" stroke-width="1.0" stroke-linejoin="round"/>
<polyline points="17.40,466.60 19.43,466.61 22.38,466.64 25.81,466.68 29.26,466.69 32.31,466.67 34.50,466.60 35.74,466.51 36.37,466.40 36.59,466.27 36.60,466.07 36.61,465.79 36.80,465.40 37.16,464.90 37.50,464.31 37.84,463.64 38.17,462.89 38.49,462.04 38.80,461.10 39.09,459.98 39.37,458.66 39.64,457.24 39.90,455.86 40.16,454.60 40.40,453.60 40.63,452.82 40.85,452.16 41.06,451.64 41.26,451.26 41.48,451.05 41.70,451.00 41.93,451.14 42.17,451.47 42.42,451.95 42.67,452.57 42.93,453.29 43.20,454.10 43.48,455.07 43.77,456.24 44.07,457.52 44.37,458.82 44.68,460.04 45.00,461.10 45.32,462.01 45.63,462.85 45.96,463.61 46.29,464.30 46.64,464.89 47.00,465.40 47.15,465.79 47.02,466.07 46.91,466.27 47.10,466.40 47.87,466.51 49.50,466.60 52.46,466.67 56.62,466.69 61.36,466.68 66.06,466.64 70.11,466.61 72.90,466.60" fill="none" stroke="#e6474f" stroke-width="1.0" stroke-linejoin="round"/>
<polyline points="17.40,486.20 19.20,486.26 21.80,486.39 24.83,486.51 27.89,486.57 30.57,486.49 32.50,486.20 33.58,485.69 34.12,485.01 34.29,484.20 34.28,483.27 34.25,482.26 34.40,481.20 34.68,479.98 34.94,478.55 35.19,477.04 35.45,475.57 35.71,474.25 36.00,473.20 36.31,472.40 36.64,471.74 36.98,471.23 37.32,470.89 37.66,470.71 38.00,470.70 38.32,470.97 38.63,471.51 38.94,472.23 39.26,473.00 39.61,473.69 40.00,474.20 40.44,474.51 40.93,474.70 41.44,474.82 41.96,474.92 42.49,475.03 43.00,475.20 43.50,475.42 44.00,475.66 44.50,475.92 45.00,476.18 45.50,476.44 46.00,476.70 46.50,476.95 46.99,477.20 47.48,477.45 47.97,477.70 48.48,477.95 49.00,478.20 49.55,478.44 50.13,478.66 50.72,478.89 51.31,479.13 51.88,479.39 52.40,479.70 52.89,480.06 53.35,480.48 53.79,480.92 54.21,481.37 54.61,481.80 55.00,482.20 55.37,482.57 55.71,482.92 56.04,483.26 56.36,483.59 56.67,483.90 57.00,484.20 57.33,484.49 57.67,484.77 58.00,485.04 58.33,485.29 58.67,485.51 59.00,485.70 59.22,485.85 59.30,485.96 59.38,486.04 59.60,486.11 60.09,486.16 61.00,486.20 62.55,486.23 64.67,486.24 67.08,486.23 69.45,486.22 71.49,486.21 72.90,486.20" fill="none" stroke="#222" stroke-width="1.0" stroke-linejoin="round"/>
<polyline points="17.40,505.50 19.24,505.51 21.91,505.53 25.01,505.55 28.16,505.56 30.95,505.55 33.00,505.50 34.22,505.42 34.90,505.33 35.23,505.21 35.39,505.06 35.59,504.89 36.00,504.70 36.61,504.49 37.26,504.27 37.94,504.02 38.63,503.73 39.32,503.40 40.00,503.00 40.67,502.53 41.33,501.99 42.00,501.39 42.67,500.77 43.33,500.13 44.00,499.50 44.68,498.86 45.37,498.19 46.06,497.50 46.74,496.81 47.39,496.14 48.00,495.50 48.57,494.87 49.10,494.24 49.61,493.62 50.10,493.04 50.56,492.49 51.00,492.00 51.42,491.53 51.81,491.06 52.17,490.62 52.53,490.28 52.87,490.06 53.20,490.00 53.52,490.13 53.82,490.41 54.11,490.81 54.40,491.31 54.69,491.89 55.00,492.50 55.32,493.19 55.65,493.98 55.99,494.84 56.33,495.74 56.66,496.64 57.00,497.50 57.33,498.36 57.67,499.25 58.00,500.14 58.33,501.00 58.67,501.79 59.00,502.50 59.34,503.12 59.70,503.69 60.06,504.20 60.41,504.64 60.72,505.01 61.00,505.30 61.11,505.49 61.04,505.57 60.94,505.58 60.97,505.54 61.27,505.51 62.00,505.50 63.37,505.51 65.30,505.51 67.51,505.51 69.71,505.51 71.60,505.50 72.90,505.50" fill="none" stroke="#e6474f" stroke-width="1.0" stroke-linejoin="round"/>
<line x1="17.10" y1="505.50" x2="73.20" y2="505.50" stroke="#3a3a3a" stroke-width="1.0"/>
<text x="18.60" y="436.10" font-size="9.2">0</text>
<text x="18.60" y="455.50" font-size="9.2">0</text>
<text x="18.60" y="474.60" font-size="9.2">10</text>
<text x="18.60" y="494.20" font-size="9.2">10</text>
<line x1="24.11" y1="505.50" x2="24.11" y2="507.00" stroke="#3a3a3a" stroke-width="0.5"/>
<line x1="31.12" y1="505.50" x2="31.12" y2="507.00" stroke="#3a3a3a" stroke-width="0.5"/>
<line x1="38.14" y1="505.50" x2="38.14" y2="507.00" stroke="#3a3a3a" stroke-width="0.5"/>
<line x1="45.15" y1="505.50" x2="45.15" y2="507.00" stroke="#3a3a3a" stroke-width="0.5"/>
<line x1="52.16" y1="505.50" x2="52.16" y2="507.00" stroke="#3a3a3a" stroke-width="0.5"/>
<line x1="59.18" y1="505.50" x2="59.18" y2="507.00" stroke="#3a3a3a" stroke-width="0.5"/>
<line x1="66.19" y1="505.50" x2="66.19" y2="507.00" stroke="#3a3a3a" stroke-width="0.5"/>
<text x="23.00" y="422.40" font-size="9.0" textLength="44.70" lengthAdjust="spacingAndGlyphs">Time (min):</text>
<text x="13.10" y="517.00" font-size="9.0" textLength="61.40" lengthAdjust="spacingAndGlyphs">p(Y694) STAT5</text>
<text x="13.80" y="507.00" font-size="9.0" textLength="83.50" lengthAdjust="spacingAndGlyphs" transform="rotate(-90 13.80 507.00)">Rested effector CD8<tspan dy="-3.4" font-size="5.4">+</tspan></text>
<rect x="246.50" y="426.30" width="57.00" height="78.70" fill="none" stroke="#3a3a3a" stroke-width="1.0"/>
<line x1="246.50" y1="445.50" x2="303.50" y2="445.50" stroke="#3a3a3a" stroke-width="0.9"/>
<line x1="246.50" y1="465.10" x2="303.50" y2="465.10" stroke="#3a3a3a" stroke-width="0.9"/>
<line x1="246.50" y1="485.00" x2="303.50" y2="485.00" stroke="#3a3a3a" stroke-width="0.9"/>
<polyline points="246.80,445.50 247.88,445.53 249.45,445.61 251.28,445.69 253.13,445.72 254.78,445.67 256.00,445.50 256.76,445.23 257.23,444.91 257.49,444.50 257.65,443.98 257.79,443.32 258.00,442.50 258.26,441.42 258.49,440.07 258.71,438.59 258.91,437.09 259.10,435.69 259.30,434.50 259.49,433.44 259.67,432.41 259.85,431.47 260.03,430.70 260.21,430.19 260.40,430.00 260.60,430.19 260.80,430.70 261.01,431.47 261.22,432.41 261.45,433.44 261.70,434.50 261.96,435.69 262.24,437.10 262.53,438.61 262.83,440.10 263.15,441.43 263.50,442.50 263.86,443.28 264.23,443.88 264.61,444.33 265.03,444.67 265.49,444.95 266.00,445.20 266.24,445.39 266.14,445.49 266.08,445.52 266.45,445.51 267.63,445.50 270.00,445.50 274.23,445.52 280.13,445.52 286.85,445.52 293.51,445.51 299.25,445.50 303.20,445.50" fill="none" stroke="#222" stroke-width="1.0" stroke-linejoin="round"/>
<polyline points="246.80,465.10 248.19,465.13 250.20,465.21 252.53,465.29 254.89,465.32 256.98,465.27 258.50,465.10 259.39,464.82 259.87,464.47 260.08,464.04 260.15,463.51 260.21,462.87 260.40,462.10 260.68,461.12 260.94,459.93 261.19,458.63 261.45,457.32 261.71,456.11 262.00,455.10 262.30,454.24 262.62,453.45 262.94,452.76 263.28,452.19 263.63,451.80 264.00,451.60 264.38,451.66 264.76,451.95 265.16,452.41 265.57,452.97 266.02,453.56 266.50,454.10 267.03,454.65 267.59,455.26 268.19,455.90 268.80,456.53 269.41,457.11 270.00,457.60 270.59,458.01 271.19,458.38 271.78,458.70 272.37,458.96 272.95,459.16 273.50,459.30 274.03,459.33 274.56,459.25 275.06,459.11 275.56,458.95 276.03,458.83 276.50,458.80 276.95,458.87 277.39,459.02 277.81,459.20 278.22,459.38 278.62,459.53 279.00,459.60 279.36,459.56 279.70,459.42 280.03,459.24 280.35,459.09 280.67,459.02 281.00,459.10 281.33,459.34 281.65,459.69 281.97,460.13 282.30,460.62 282.64,461.12 283.00,461.60 283.39,462.10 283.80,462.66 284.22,463.23 284.65,463.77 285.08,464.24 285.50,464.60 285.77,464.83 285.86,464.97 285.96,465.04 286.23,465.06 286.85,465.07 288.00,465.10 289.97,465.13 292.69,465.14 295.76,465.13 298.79,465.12 301.40,465.11 303.20,465.10" fill="none" stroke="#e6474f" stroke-width="1.0" stroke-linejoin="round"/>
<polyline points="246.80,485.00 248.00,485.03 249.75,485.11 251.78,485.19 253.83,485.22 255.66,485.17 257.00,485.00 257.81,484.72 258.29,484.37 258.54,483.94 258.67,483.41 258.79,482.77 259.00,482.00 259.28,481.03 259.54,479.86 259.78,478.57 260.02,477.27 260.26,476.05 260.50,475.00 260.74,474.07 260.98,473.17 261.22,472.36 261.46,471.66 261.72,471.13 262.00,470.80 262.29,470.74 262.59,470.94 262.91,471.29 263.24,471.73 263.60,472.16 264.00,472.50 264.44,472.77 264.93,473.03 265.44,473.29 265.96,473.54 266.49,473.78 267.00,474.00 267.49,474.19 267.96,474.35 268.44,474.50 268.93,474.65 269.44,474.81 270.00,475.00 270.61,475.22 271.26,475.46 271.94,475.72 272.63,475.98 273.32,476.24 274.00,476.50 274.68,476.75 275.37,477.00 276.06,477.25 276.74,477.50 277.39,477.75 278.00,478.00 278.56,478.25 279.07,478.50 279.56,478.75 280.04,479.00 280.51,479.25 281.00,479.50 281.50,479.75 282.00,480.00 282.50,480.25 283.00,480.50 283.50,480.75 284.00,481.00 284.50,481.24 284.99,481.48 285.48,481.72 285.98,481.96 286.48,482.22 287.00,482.50 287.55,482.82 288.14,483.19 288.73,483.56 289.31,483.93 289.84,484.25 290.30,484.50 290.57,484.68 290.63,484.80 290.66,484.88 290.79,484.93 291.19,484.96 292.00,485.00 293.45,485.03 295.44,485.04 297.71,485.03 299.94,485.02 301.87,485.01 303.20,485.00" fill="none" stroke="#222" stroke-width="1.0" stroke-linejoin="round"/>
<polyline points="246.80,505.00 247.88,505.01 249.45,505.02 251.28,505.03 253.13,505.04 254.78,505.03 256.00,505.00 256.74,504.96 257.16,504.91 257.39,504.84 257.53,504.76 257.69,504.65 258.00,504.50 258.44,504.32 258.93,504.11 259.44,503.88 259.96,503.61 260.49,503.32 261.00,503.00 261.50,502.63 262.00,502.20 262.50,501.75 263.00,501.30 263.50,500.87 264.00,500.50 264.50,500.19 265.00,499.93 265.50,499.69 266.00,499.46 266.50,499.24 267.00,499.00 267.50,498.75 268.00,498.50 268.50,498.25 269.00,498.00 269.50,497.75 270.00,497.50 270.50,497.25 271.00,497.00 271.50,496.75 272.00,496.50 272.50,496.25 273.00,496.00 273.49,495.78 273.98,495.59 274.47,495.41 274.96,495.19 275.47,494.89 276.00,494.50 276.57,493.90 277.17,493.11 277.78,492.25 278.39,491.44 278.97,490.82 279.50,490.50 279.98,490.49 280.43,490.69 280.84,491.06 281.24,491.59 281.62,492.25 282.00,493.00 282.37,493.94 282.72,495.11 283.06,496.41 283.39,497.72 283.70,498.95 284.00,500.00 284.28,500.88 284.54,501.67 284.78,502.38 285.02,503.00 285.26,503.54 285.50,504.00 285.58,504.35 285.46,504.59 285.33,504.75 285.41,504.85 285.90,504.93 287.00,505.00 289.04,505.06 291.91,505.07 295.19,505.06 298.46,505.04 301.27,505.01 303.20,505.00" fill="none" stroke="#e6474f" stroke-width="1.0" stroke-linejoin="round"/>
<line x1="246.50" y1="505.00" x2="303.50" y2="505.00" stroke="#3a3a3a" stroke-width="1.0"/>
<text x="248.00" y="434.30" font-size="9.2">0</text>
<text x="248.00" y="453.50" font-size="9.2">0</text>
<text x="248.00" y="473.10" font-size="9.2">10</text>
<text x="248.00" y="493.00" font-size="9.2">10</text>
<line x1="253.62" y1="505.00" x2="253.62" y2="506.50" stroke="#3a3a3a" stroke-width="0.5"/>
<line x1="260.75" y1="505.00" x2="260.75" y2="506.50" stroke="#3a3a3a" stroke-width="0.5"/>
<line x1="267.88" y1="505.00" x2="267.88" y2="506.50" stroke="#3a3a3a" stroke-width="0.5"/>
<line x1="275.00" y1="505.00" x2="275.00" y2="506.50" stroke="#3a3a3a" stroke-width="0.5"/>
<line x1="282.12" y1="505.00" x2="282.12" y2="506.50" stroke="#3a3a3a" stroke-width="0.5"/>
<line x1="289.25" y1="505.00" x2="289.25" y2="506.50" stroke="#3a3a3a" stroke-width="0.5"/>
<line x1="296.38" y1="505.00" x2="296.38" y2="506.50" stroke="#3a3a3a" stroke-width="0.5"/>
<text x="253.20" y="421.10" font-size="9.0" textLength="44.30" lengthAdjust="spacingAndGlyphs">Time (min):</text>
<text x="242.40" y="515.40" font-size="9.0" textLength="62.30" lengthAdjust="spacingAndGlyphs">p(Y694) STAT5</text>
<text x="243.60" y="506.60" font-size="9.0" textLength="81.10" lengthAdjust="spacingAndGlyphs" transform="rotate(-90 243.60 506.60)">Rested effector CD4<tspan dy="-3.4" font-size="5.4">+</tspan></text>
<text x="117.70" y="417.00" font-size="9.0" textLength="111.90" lengthAdjust="spacingAndGlyphs">Rested effector CD8<tspan dy="-3.4" font-size="5.4">+</tspan><tspan dy="3.4"> T cells</tspan></text>
<line x1="127.60" y1="427.20" x2="127.60" y2="485.70" stroke="#3a3a3a" stroke-width="0.9"/>
<line x1="125.00" y1="485.70" x2="127.60" y2="485.70" stroke="#3a3a3a" stroke-width="0.9"/>
<text x="122.60" y="488.87" font-size="8.8" text-anchor="end">0</text>
<line x1="125.00" y1="474.00" x2="127.60" y2="474.00" stroke="#3a3a3a" stroke-width="0.9"/>
<text x="122.60" y="477.17" font-size="8.8" text-anchor="end">1</text>
<line x1="125.00" y1="462.30" x2="127.60" y2="462.30" stroke="#3a3a3a" stroke-width="0.9"/>
<text x="122.60" y="465.47" font-size="8.8" text-anchor="end">2</text>
<line x1="125.00" y1="450.60" x2="127.60" y2="450.60" stroke="#3a3a3a" stroke-width="0.9"/>
<text x="122.60" y="453.77" font-size="8.8" text-anchor="end">3</text>
<line x1="125.00" y1="438.90" x2="127.60" y2="438.90" stroke="#3a3a3a" stroke-width="0.9"/>
<text x="122.60" y="442.07" font-size="8.8" text-anchor="end">4</text>
<line x1="125.00" y1="427.20" x2="127.60" y2="427.20" stroke="#3a3a3a" stroke-width="0.9"/>
<text x="122.60" y="430.37" font-size="8.8" text-anchor="end">5</text>
<line x1="127.60" y1="485.70" x2="216.50" y2="485.70" stroke="#3a3a3a" stroke-width="0.9"/>
<line x1="128.20" y1="485.70" x2="128.20" y2="488.10" stroke="#3a3a3a" stroke-width="0.9"/>
<text x="128.20" y="497.40" font-size="8.8" text-anchor="middle">0</text>
<line x1="145.82" y1="485.70" x2="145.82" y2="488.10" stroke="#3a3a3a" stroke-width="0.9"/>
<text x="145.82" y="497.40" font-size="8.8" text-anchor="middle">20</text>
<line x1="163.44" y1="485.70" x2="163.44" y2="488.10" stroke="#3a3a3a" stroke-width="0.9"/>
<text x="163.44" y="497.40" font-size="8.8" text-anchor="middle">40</text>
<line x1="181.06" y1="485.70" x2="181.06" y2="488.10" stroke="#3a3a3a" stroke-width="0.9"/>
<text x="181.06" y="497.40" font-size="8.8" text-anchor="middle">60</text>
<line x1="198.68" y1="485.70" x2="198.68" y2="488.10" stroke="#3a3a3a" stroke-width="0.9"/>
<text x="198.68" y="497.40" font-size="8.8" text-anchor="middle">80</text>
<line x1="216.30" y1="485.70" x2="216.30" y2="488.10" stroke="#3a3a3a" stroke-width="0.9"/>
<text x="216.30" y="497.40" font-size="8.8" text-anchor="middle">100</text>
<polyline points="128.20,472.83 132.60,464.06 137.01,455.28 154.63,453.52 181.06,458.20 207.49,461.13" fill="none" stroke="#231f20" stroke-width="0.95" stroke-linejoin="round"/>
<line x1="128.20" y1="471.43" x2="128.20" y2="474.23" stroke="#231f20" stroke-width="0.8"/>
<line x1="126.60" y1="471.43" x2="129.80" y2="471.43" stroke="#231f20" stroke-width="0.8"/>
<line x1="126.60" y1="474.23" x2="129.80" y2="474.23" stroke="#231f20" stroke-width="0.8"/>
<line x1="132.60" y1="462.30" x2="132.60" y2="465.81" stroke="#231f20" stroke-width="0.8"/>
<line x1="131.00" y1="462.30" x2="134.20" y2="462.30" stroke="#231f20" stroke-width="0.8"/>
<line x1="131.00" y1="465.81" x2="134.20" y2="465.81" stroke="#231f20" stroke-width="0.8"/>
<line x1="137.01" y1="452.36" x2="137.01" y2="458.20" stroke="#231f20" stroke-width="0.8"/>
<line x1="135.41" y1="452.36" x2="138.61" y2="452.36" stroke="#231f20" stroke-width="0.8"/>
<line x1="135.41" y1="458.20" x2="138.61" y2="458.20" stroke="#231f20" stroke-width="0.8"/>
<line x1="154.63" y1="450.01" x2="154.63" y2="457.03" stroke="#231f20" stroke-width="0.8"/>
<line x1="153.03" y1="450.01" x2="156.23" y2="450.01" stroke="#231f20" stroke-width="0.8"/>
<line x1="153.03" y1="457.03" x2="156.23" y2="457.03" stroke="#231f20" stroke-width="0.8"/>
<line x1="181.06" y1="455.28" x2="181.06" y2="461.13" stroke="#231f20" stroke-width="0.8"/>
<line x1="179.46" y1="455.28" x2="182.66" y2="455.28" stroke="#231f20" stroke-width="0.8"/>
<line x1="179.46" y1="461.13" x2="182.66" y2="461.13" stroke="#231f20" stroke-width="0.8"/>
<line x1="207.49" y1="458.79" x2="207.49" y2="463.47" stroke="#231f20" stroke-width="0.8"/>
<line x1="205.89" y1="458.79" x2="209.09" y2="458.79" stroke="#231f20" stroke-width="0.8"/>
<line x1="205.89" y1="463.47" x2="209.09" y2="463.47" stroke="#231f20" stroke-width="0.8"/>
<polyline points="128.20,468.15 132.60,450.60 137.01,437.14 154.63,438.90 181.06,445.92 207.49,443.58" fill="none" stroke="#e3262b" stroke-width="0.95" stroke-linejoin="round"/>
<line x1="128.20" y1="466.39" x2="128.20" y2="469.90" stroke="#e3262b" stroke-width="0.8"/>
<line x1="126.60" y1="466.39" x2="129.80" y2="466.39" stroke="#e3262b" stroke-width="0.8"/>
<line x1="126.60" y1="469.90" x2="129.80" y2="469.90" stroke="#e3262b" stroke-width="0.8"/>
<line x1="132.60" y1="448.26" x2="132.60" y2="452.94" stroke="#e3262b" stroke-width="0.8"/>
<line x1="131.00" y1="448.26" x2="134.20" y2="448.26" stroke="#e3262b" stroke-width="0.8"/>
<line x1="131.00" y1="452.94" x2="134.20" y2="452.94" stroke="#e3262b" stroke-width="0.8"/>
<line x1="137.01" y1="434.22" x2="137.01" y2="440.07" stroke="#e3262b" stroke-width="0.8"/>
<line x1="135.41" y1="434.22" x2="138.61" y2="434.22" stroke="#e3262b" stroke-width="0.8"/>
<line x1="135.41" y1="440.07" x2="138.61" y2="440.07" stroke="#e3262b" stroke-width="0.8"/>
<line x1="154.63" y1="434.81" x2="154.63" y2="443.00" stroke="#e3262b" stroke-width="0.8"/>
<line x1="153.03" y1="434.81" x2="156.23" y2="434.81" stroke="#e3262b" stroke-width="0.8"/>
<line x1="153.03" y1="443.00" x2="156.23" y2="443.00" stroke="#e3262b" stroke-width="0.8"/>
<line x1="181.06" y1="443.00" x2="181.06" y2="448.84" stroke="#e3262b" stroke-width="0.8"/>
<line x1="179.46" y1="443.00" x2="182.66" y2="443.00" stroke="#e3262b" stroke-width="0.8"/>
<line x1="179.46" y1="448.84" x2="182.66" y2="448.84" stroke="#e3262b" stroke-width="0.8"/>
<line x1="207.49" y1="440.07" x2="207.49" y2="447.09" stroke="#e3262b" stroke-width="0.8"/>
<line x1="205.89" y1="440.07" x2="209.09" y2="440.07" stroke="#e3262b" stroke-width="0.8"/>
<line x1="205.89" y1="447.09" x2="209.09" y2="447.09" stroke="#e3262b" stroke-width="0.8"/>
<circle cx="128.20" cy="472.83" r="2.0" fill="#111"/>
<circle cx="132.60" cy="464.06" r="2.0" fill="#111"/>
<circle cx="137.01" cy="455.28" r="2.0" fill="#111"/>
<circle cx="154.63" cy="453.52" r="2.0" fill="#111"/>
<circle cx="181.06" cy="458.20" r="2.0" fill="#111"/>
<circle cx="207.49" cy="461.13" r="2.0" fill="#111"/>
<path d="M128.20 465.99 L130.20 469.59 L126.20 469.59 Z" fill="#e3262b"/>
<path d="M132.60 448.44 L134.60 452.04 L130.60 452.04 Z" fill="#e3262b"/>
<path d="M137.01 434.98 L139.01 438.58 L135.01 438.58 Z" fill="#e3262b"/>
<path d="M154.63 436.74 L156.63 440.34 L152.63 440.34 Z" fill="#e3262b"/>
<path d="M181.06 443.76 L183.06 447.36 L179.06 447.36 Z" fill="#e3262b"/>
<path d="M207.49 441.42 L209.49 445.02 L205.49 445.02 Z" fill="#e3262b"/>
<text x="132.60" y="447.20" font-size="8.5" text-anchor="middle">*</text>
<text x="137.01" y="431.70" font-size="8.5" text-anchor="middle">***</text>
<text x="154.63" y="434.20" font-size="8.5" text-anchor="middle">**</text>
<text x="181.06" y="440.40" font-size="8.5" text-anchor="middle">*</text>
<text x="207.49" y="436.10" font-size="8.5" text-anchor="middle">***</text>
<text x="151.30" y="510.20" font-size="9.0" textLength="41.70" lengthAdjust="spacingAndGlyphs">Time (min)</text>
<line x1="128.00" y1="513.75" x2="216.30" y2="513.75" stroke="#3a3a3a" stroke-width="1.0"/>
<text x="146.40" y="522.80" font-size="9.0" textLength="52.30" lengthAdjust="spacingAndGlyphs">IL2 (5 ng/mL)</text>
<text x="100.60" y="487.70" font-size="9.0" textLength="62.20" lengthAdjust="spacingAndGlyphs" transform="rotate(-90 100.60 487.70)">p(Y694) STAT5</text>
<text x="110.40" y="478.00" font-size="9.0" textLength="45.20" lengthAdjust="spacingAndGlyphs" transform="rotate(-90 110.40 478.00)">(MFI × 10<tspan dy="-3.4" font-size="5.4">3</tspan><tspan dy="3.4">)</tspan></text>
<text x="348.80" y="415.60" font-size="9.0" textLength="110.90" lengthAdjust="spacingAndGlyphs">Rested effector CD4<tspan dy="-3.4" font-size="5.4">+</tspan><tspan dy="3.4"> T cells</tspan></text>
<line x1="358.00" y1="428.50" x2="358.00" y2="487.00" stroke="#3a3a3a" stroke-width="0.9"/>
<line x1="355.40" y1="487.00" x2="358.00" y2="487.00" stroke="#3a3a3a" stroke-width="0.9"/>
<text x="353.00" y="490.17" font-size="8.8" text-anchor="end">0</text>
<line x1="355.40" y1="475.30" x2="358.00" y2="475.30" stroke="#3a3a3a" stroke-width="0.9"/>
<text x="353.00" y="478.47" font-size="8.8" text-anchor="end">5</text>
<line x1="355.40" y1="463.60" x2="358.00" y2="463.60" stroke="#3a3a3a" stroke-width="0.9"/>
<text x="353.00" y="466.77" font-size="8.8" text-anchor="end">10</text>
<line x1="355.40" y1="451.90" x2="358.00" y2="451.90" stroke="#3a3a3a" stroke-width="0.9"/>
<text x="353.00" y="455.07" font-size="8.8" text-anchor="end">15</text>
<line x1="355.40" y1="440.20" x2="358.00" y2="440.20" stroke="#3a3a3a" stroke-width="0.9"/>
<text x="353.00" y="443.37" font-size="8.8" text-anchor="end">20</text>
<line x1="355.40" y1="428.50" x2="358.00" y2="428.50" stroke="#3a3a3a" stroke-width="0.9"/>
<text x="353.00" y="431.67" font-size="8.8" text-anchor="end">25</text>
<line x1="358.00" y1="487.00" x2="446.50" y2="487.00" stroke="#3a3a3a" stroke-width="0.9"/>
<line x1="358.60" y1="487.00" x2="358.60" y2="489.40" stroke="#3a3a3a" stroke-width="0.9"/>
<text x="358.60" y="497.60" font-size="8.8" text-anchor="middle">0</text>
<line x1="376.14" y1="487.00" x2="376.14" y2="489.40" stroke="#3a3a3a" stroke-width="0.9"/>
<text x="376.14" y="497.60" font-size="8.8" text-anchor="middle">20</text>
<line x1="393.68" y1="487.00" x2="393.68" y2="489.40" stroke="#3a3a3a" stroke-width="0.9"/>
<text x="393.68" y="497.60" font-size="8.8" text-anchor="middle">40</text>
<line x1="411.22" y1="487.00" x2="411.22" y2="489.40" stroke="#3a3a3a" stroke-width="0.9"/>
<text x="411.22" y="497.60" font-size="8.8" text-anchor="middle">60</text>
<line x1="428.76" y1="487.00" x2="428.76" y2="489.40" stroke="#3a3a3a" stroke-width="0.9"/>
<text x="428.76" y="497.60" font-size="8.8" text-anchor="middle">80</text>
<line x1="446.30" y1="487.00" x2="446.30" y2="489.40" stroke="#3a3a3a" stroke-width="0.9"/>
<text x="446.30" y="497.60" font-size="8.8" text-anchor="middle">100</text>
<polyline points="358.60,474.83 362.99,466.64 367.37,458.92 384.91,457.28 411.22,462.43 437.53,463.60" fill="none" stroke="#231f20" stroke-width="0.95" stroke-linejoin="round"/>
<line x1="358.60" y1="471.32" x2="358.60" y2="478.34" stroke="#231f20" stroke-width="0.8"/>
<line x1="357.00" y1="471.32" x2="360.20" y2="471.32" stroke="#231f20" stroke-width="0.8"/>
<line x1="357.00" y1="478.34" x2="360.20" y2="478.34" stroke="#231f20" stroke-width="0.8"/>
<line x1="362.99" y1="464.30" x2="362.99" y2="468.98" stroke="#231f20" stroke-width="0.8"/>
<line x1="361.38" y1="464.30" x2="364.59" y2="464.30" stroke="#231f20" stroke-width="0.8"/>
<line x1="361.38" y1="468.98" x2="364.59" y2="468.98" stroke="#231f20" stroke-width="0.8"/>
<line x1="367.37" y1="454.24" x2="367.37" y2="463.60" stroke="#231f20" stroke-width="0.8"/>
<line x1="365.77" y1="454.24" x2="368.97" y2="454.24" stroke="#231f20" stroke-width="0.8"/>
<line x1="365.77" y1="463.60" x2="368.97" y2="463.60" stroke="#231f20" stroke-width="0.8"/>
<line x1="384.91" y1="452.60" x2="384.91" y2="461.96" stroke="#231f20" stroke-width="0.8"/>
<line x1="383.31" y1="452.60" x2="386.51" y2="452.60" stroke="#231f20" stroke-width="0.8"/>
<line x1="383.31" y1="461.96" x2="386.51" y2="461.96" stroke="#231f20" stroke-width="0.8"/>
<line x1="411.22" y1="456.81" x2="411.22" y2="468.05" stroke="#231f20" stroke-width="0.8"/>
<line x1="409.62" y1="456.81" x2="412.82" y2="456.81" stroke="#231f20" stroke-width="0.8"/>
<line x1="409.62" y1="468.05" x2="412.82" y2="468.05" stroke="#231f20" stroke-width="0.8"/>
<line x1="437.53" y1="458.45" x2="437.53" y2="468.75" stroke="#231f20" stroke-width="0.8"/>
<line x1="435.93" y1="458.45" x2="439.13" y2="458.45" stroke="#231f20" stroke-width="0.8"/>
<line x1="435.93" y1="468.75" x2="439.13" y2="468.75" stroke="#231f20" stroke-width="0.8"/>
<polyline points="358.60,460.79 362.99,447.69 367.37,437.39 384.91,440.43 411.22,442.07 437.53,438.80" fill="none" stroke="#e3262b" stroke-width="0.95" stroke-linejoin="round"/>
<line x1="358.60" y1="457.28" x2="358.60" y2="464.30" stroke="#e3262b" stroke-width="0.8"/>
<line x1="357.00" y1="457.28" x2="360.20" y2="457.28" stroke="#e3262b" stroke-width="0.8"/>
<line x1="357.00" y1="464.30" x2="360.20" y2="464.30" stroke="#e3262b" stroke-width="0.8"/>
<line x1="362.99" y1="445.35" x2="362.99" y2="450.03" stroke="#e3262b" stroke-width="0.8"/>
<line x1="361.38" y1="445.35" x2="364.59" y2="445.35" stroke="#e3262b" stroke-width="0.8"/>
<line x1="361.38" y1="450.03" x2="364.59" y2="450.03" stroke="#e3262b" stroke-width="0.8"/>
<line x1="367.37" y1="435.05" x2="367.37" y2="439.73" stroke="#e3262b" stroke-width="0.8"/>
<line x1="365.77" y1="435.05" x2="368.97" y2="435.05" stroke="#e3262b" stroke-width="0.8"/>
<line x1="365.77" y1="439.73" x2="368.97" y2="439.73" stroke="#e3262b" stroke-width="0.8"/>
<line x1="384.91" y1="433.41" x2="384.91" y2="447.45" stroke="#e3262b" stroke-width="0.8"/>
<line x1="383.31" y1="433.41" x2="386.51" y2="433.41" stroke="#e3262b" stroke-width="0.8"/>
<line x1="383.31" y1="447.45" x2="386.51" y2="447.45" stroke="#e3262b" stroke-width="0.8"/>
<line x1="411.22" y1="437.63" x2="411.22" y2="446.52" stroke="#e3262b" stroke-width="0.8"/>
<line x1="409.62" y1="437.63" x2="412.82" y2="437.63" stroke="#e3262b" stroke-width="0.8"/>
<line x1="409.62" y1="446.52" x2="412.82" y2="446.52" stroke="#e3262b" stroke-width="0.8"/>
<line x1="437.53" y1="432.95" x2="437.53" y2="444.65" stroke="#e3262b" stroke-width="0.8"/>
<line x1="435.93" y1="432.95" x2="439.13" y2="432.95" stroke="#e3262b" stroke-width="0.8"/>
<line x1="435.93" y1="444.65" x2="439.13" y2="444.65" stroke="#e3262b" stroke-width="0.8"/>
<circle cx="358.60" cy="474.83" r="2.0" fill="#111"/>
<circle cx="362.99" cy="466.64" r="2.0" fill="#111"/>
<circle cx="367.37" cy="458.92" r="2.0" fill="#111"/>
<circle cx="384.91" cy="457.28" r="2.0" fill="#111"/>
<circle cx="411.22" cy="462.43" r="2.0" fill="#111"/>
<circle cx="437.53" cy="463.60" r="2.0" fill="#111"/>
<path d="M358.60 458.63 L360.60 462.23 L356.60 462.23 Z" fill="#e3262b"/>
<path d="M362.99 445.53 L364.99 449.13 L360.99 449.13 Z" fill="#e3262b"/>
<path d="M367.37 435.23 L369.37 438.83 L365.37 438.83 Z" fill="#e3262b"/>
<path d="M384.91 438.27 L386.91 441.87 L382.91 441.87 Z" fill="#e3262b"/>
<path d="M411.22 439.91 L413.22 443.51 L409.22 443.51 Z" fill="#e3262b"/>
<path d="M437.53 436.64 L439.53 440.24 L435.53 440.24 Z" fill="#e3262b"/>
<text x="362.99" y="444.70" font-size="8.5" text-anchor="middle">*</text>
<text x="367.37" y="433.50" font-size="8.5" text-anchor="middle">*</text>
<text x="411.22" y="440.20" font-size="8.5" text-anchor="middle">*</text>
<text x="437.53" y="430.60" font-size="8.5" text-anchor="middle">**</text>
<text x="382.80" y="510.60" font-size="9.0" textLength="42.30" lengthAdjust="spacingAndGlyphs">Time (min)</text>
<line x1="360.20" y1="513.75" x2="447.70" y2="513.75" stroke="#3a3a3a" stroke-width="1.0"/>
<text x="377.10" y="522.80" font-size="9.0" textLength="52.20" lengthAdjust="spacingAndGlyphs">IL2 (5 ng/mL)</text>
<text x="323.20" y="489.00" font-size="9.0" textLength="63.00" lengthAdjust="spacingAndGlyphs" transform="rotate(-90 323.20 489.00)">p(Y694) STAT5</text>
<text x="334.00" y="479.00" font-size="9.0" textLength="45.50" lengthAdjust="spacingAndGlyphs" transform="rotate(-90 334.00 479.00)">(MFI × 10<tspan dy="-3.4" font-size="5.4">2</tspan><tspan dy="3.4">)</tspan></text>
<line x1="454.60" y1="430.00" x2="460.80" y2="430.00" stroke="#222" stroke-width="1.1"/>
<text x="464.30" y="433.00" font-size="8.8"><tspan font-style="italic">Ptpn1</tspan><tspan dy="-3.7" font-size="6.1">fl/fl</tspan></text>
<text x="464.30" y="443.80" font-size="9.1"><tspan font-style="italic">n</tspan> = 5</text>
<line x1="454.60" y1="453.00" x2="460.80" y2="453.00" stroke="#e6474f" stroke-width="1.1"/>
<text x="464.30" y="456.20" font-size="9.0"><tspan font-style="italic">Lck</tspan>-Cre;</text>
<text x="464.30" y="466.90" font-size="8.8"><tspan font-style="italic">Ptpn1</tspan><tspan dy="-3.7" font-size="6.1">fl/fl</tspan></text>
<text x="464.30" y="477.70" font-size="9.1"><tspan font-style="italic">n</tspan> = 5</text>
</svg>
</body></html>
